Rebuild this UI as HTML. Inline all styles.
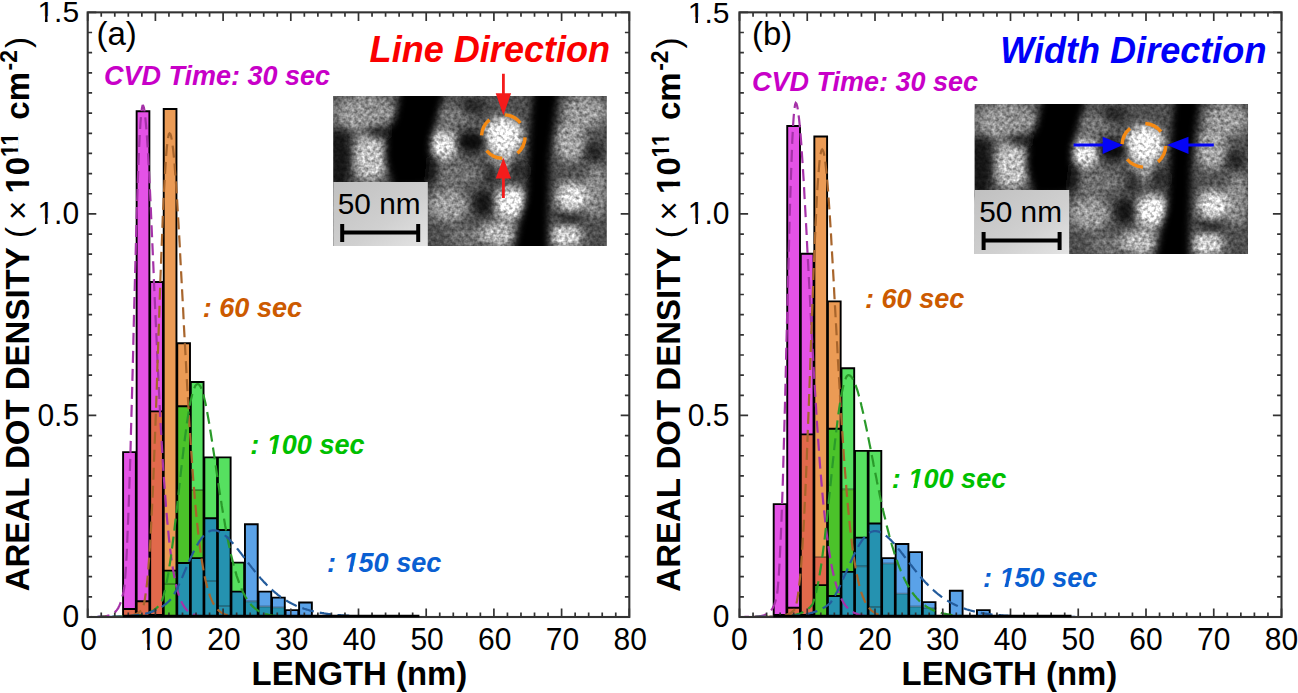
<!DOCTYPE html>
<html><head><meta charset="utf-8"><style>
html,body{margin:0;padding:0;background:#fff;width:1298px;height:693px;overflow:hidden}
svg{display:block}
text{font-family:"Liberation Sans",sans-serif}
</style></head><body>
<svg width="1298" height="693" viewBox="0 0 1298 693" font-family="Liberation Sans, sans-serif">
<defs><clipPath id="semclip"><rect x="0" y="0" width="273.5" height="150"/></clipPath>
<filter id="blur4" x="-30%" y="-30%" width="160%" height="160%"><feGaussianBlur stdDeviation="3.5"/></filter>
<filter id="blur6" x="-50%" y="-50%" width="200%" height="200%"><feGaussianBlur stdDeviation="5"/></filter>
<filter id="semnoise" x="0" y="0" width="100%" height="100%" color-interpolation-filters="sRGB"><feTurbulence type="fractalNoise" baseFrequency="0.28" numOctaves="2" seed="7" result="t"/><feColorMatrix in="t" type="matrix" values="1 0 0 0 0  1 0 0 0 0  1 0 0 0 0  0 0 0 0 1" result="g"/><feComposite in="SourceGraphic" in2="g" operator="arithmetic" k1="1.2" k2="0.4" k3="0" k4="0"/><feGaussianBlur stdDeviation="0.75"/></filter>
<g id="sem">
<g clip-path="url(#semclip)">
<g filter="url(#semnoise)">
<rect x="0" y="0" width="273.5" height="150" fill="#4e4e4e"/>
<g filter="url(#blur6)">
<ellipse cx="32" cy="16" rx="32" ry="18" fill="#8e8e8e"/>
<ellipse cx="20" cy="24" rx="12" ry="10" fill="#9c9c9c"/>
<ellipse cx="37" cy="61" rx="18" ry="24" fill="#c0c0c0"/>
<ellipse cx="109.7" cy="48.4" rx="15" ry="14" fill="#e2e2e2"/>
<ellipse cx="118" cy="20" rx="22" ry="10" fill="#747474"/>
<ellipse cx="122" cy="78" rx="26" ry="14" fill="#6e6e6e"/>
<ellipse cx="115" cy="110" rx="20" ry="16" fill="#9c9c9c"/>
<ellipse cx="133" cy="141" rx="18" ry="10" fill="#727272"/>
<ellipse cx="170.3" cy="40.3" rx="19" ry="19" fill="#f2f2f2"/>
<ellipse cx="168" cy="66" rx="12" ry="10" fill="#a0a0a0"/>
<ellipse cx="178" cy="107" rx="17" ry="16" fill="#f0f0f0"/>
<ellipse cx="165" cy="138" rx="18" ry="12" fill="#bcbcbc"/>
<ellipse cx="238.5" cy="101" rx="15" ry="15" fill="#e0e0e0"/>
<ellipse cx="233" cy="140" rx="16" ry="12" fill="#d2d2d2"/>
<ellipse cx="237" cy="46" rx="15" ry="20" fill="#a4a4a4"/>
<ellipse cx="252" cy="16" rx="22" ry="16" fill="#9a9a9a"/>
<ellipse cx="262" cy="96" rx="11" ry="26" fill="#8c8c8c"/>
<ellipse cx="264" cy="78" rx="9" ry="9" fill="#8a8a8a"/>
</g><g filter="url(#blur4)">
<ellipse cx="138" cy="46" rx="14" ry="10" fill="#101010"/>
<ellipse cx="140" cy="10" rx="12" ry="8" fill="#262626"/>
<ellipse cx="261" cy="56" rx="9" ry="9" fill="#222"/>
<ellipse cx="150" cy="107" rx="10" ry="13" fill="#141414"/>
<ellipse cx="236" cy="122" rx="14" ry="4" fill="#1c1c1c"/>
<ellipse cx="98" cy="74" rx="7" ry="14" fill="#1a1a1a"/>
<ellipse cx="158" cy="78" rx="6" ry="12" fill="#2c2c2c"/>
<ellipse cx="48" cy="36" rx="16" ry="6" fill="#2c2c2c"/>
<ellipse cx="185" cy="75" rx="8" ry="10" fill="#2a2a2a"/>
<path d="M68,-8 L112,-8 L104,22 L98,40 L96,70 L93,90 L60,92 L52,62 L54,36 L62,22 Z" fill="#000"/>
<path d="M-5,36 L15,34 L18,60 L15,90 L-5,92 Z" fill="#141414"/>
<path d="M200,-8 L226,-8 L221,30 L217,60 L216,95 L215,120 L215,158 L180,158 L186,128 L193,100 L195,60 L197,25 Z" fill="#000"/>
</g></g>
<linearGradient id="sbg" x1="0" y1="0" x2="1" y2="1"><stop offset="0" stop-color="#c0c0c0"/><stop offset="0.6" stop-color="#d0d0d0"/><stop offset="1" stop-color="#e4e4e4"/></linearGradient>
<rect x="0" y="86" width="94.6" height="64" fill="url(#sbg)"/>
<text x="4.6" y="118.2" font-size="29.8" fill="#000">50 nm</text>
<path d="M9,136.5 H85 M9,128 V146 M85,128 V146" stroke="#000" stroke-width="4" fill="none"/>
</g></g></defs>
<rect width="100%" height="100%" fill="#fff"/>
<rect x="122.70" y="608.94" width="13.54" height="8.06" fill="#e1694b"/>
<rect x="122.70" y="452.13" width="13.54" height="156.81" fill="#e452e6"/>
<rect x="136.24" y="601.28" width="13.54" height="15.72" fill="#e1694b"/>
<rect x="136.24" y="111.23" width="13.54" height="490.05" fill="#e452e6"/>
<rect x="149.78" y="614.98" width="13.54" height="2.02" fill="#4bc32a"/>
<rect x="149.78" y="411.42" width="13.54" height="203.57" fill="#e1694b"/>
<rect x="149.78" y="282.02" width="13.54" height="129.40" fill="#e452e6"/>
<rect x="163.32" y="583.95" width="13.54" height="33.05" fill="#4bc32a"/>
<rect x="163.32" y="570.64" width="13.54" height="13.30" fill="#4bc32a"/>
<rect x="163.32" y="108.93" width="13.54" height="461.71" fill="#eb9b55"/>
<rect x="176.86" y="562.98" width="13.54" height="54.02" fill="#2592b0"/>
<rect x="176.86" y="406.18" width="13.54" height="156.81" fill="#4bc32a"/>
<rect x="176.86" y="343.30" width="13.54" height="62.88" fill="#eb9b55"/>
<rect x="190.40" y="558.15" width="13.54" height="58.85" fill="#2592b0"/>
<rect x="190.40" y="490.02" width="13.54" height="68.12" fill="#4bc32a"/>
<rect x="190.40" y="381.99" width="13.54" height="108.03" fill="#56e060"/>
<rect x="203.94" y="581.12" width="13.54" height="35.88" fill="#2592b0"/>
<rect x="203.94" y="518.24" width="13.54" height="62.88" fill="#2592b0"/>
<rect x="203.94" y="457.37" width="13.54" height="60.87" fill="#56e060"/>
<rect x="217.48" y="606.12" width="13.54" height="10.88" fill="#2592b0"/>
<rect x="217.48" y="529.93" width="13.54" height="76.19" fill="#2592b0"/>
<rect x="217.48" y="457.37" width="13.54" height="72.56" fill="#56e060"/>
<rect x="231.02" y="591.60" width="13.54" height="25.40" fill="#2592b0"/>
<rect x="231.02" y="562.58" width="13.54" height="29.02" fill="#56e060"/>
<rect x="244.56" y="601.28" width="13.54" height="15.72" fill="#2592b0"/>
<rect x="244.56" y="524.29" width="13.54" height="76.99" fill="#5aa2e8"/>
<rect x="258.10" y="606.52" width="13.54" height="10.48" fill="#2592b0"/>
<rect x="258.10" y="591.60" width="13.54" height="14.91" fill="#5aa2e8"/>
<rect x="271.64" y="607.33" width="13.54" height="9.67" fill="#2592b0"/>
<rect x="271.64" y="597.65" width="13.54" height="9.67" fill="#5aa2e8"/>
<rect x="285.18" y="610.15" width="13.54" height="6.85" fill="#5aa2e8"/>
<rect x="298.72" y="602.49" width="13.54" height="14.51" fill="#5aa2e8"/>
<path d="M162.77,583.95H177.41M189.85,490.02H204.49M203.39,581.12H218.03M216.93,606.12H231.57M244.01,601.28H258.65M257.55,606.52H272.19M271.09,607.33H285.73" stroke="#000" stroke-opacity="0.3" stroke-width="1.9" fill="none"/>
<path d="M123.10,617.0V452.13M135.84,617.0V452.13M122.15,452.13H136.79M136.64,617.0V111.23M149.38,617.0V111.23M135.69,111.23H150.33M150.18,617.0V282.02M162.92,617.0V282.02M149.23,282.02H163.87M163.72,617.0V583.95M176.46,617.0V583.95M123.10,617.0V608.94M135.84,617.0V608.94M122.15,608.94H136.79M136.64,617.0V601.28M149.38,617.0V601.28M135.69,601.28H150.33M150.18,617.0V411.42M162.92,617.0V411.42M149.23,411.42H163.87M163.72,617.0V108.93M176.46,617.0V108.93M162.77,108.93H177.41M177.26,617.0V343.30M190.00,617.0V343.30M176.31,343.30H190.95M190.80,617.0V490.02M203.54,617.0V490.02M204.34,617.0V581.12M217.08,617.0V581.12M217.88,617.0V606.12M230.62,617.0V606.12M150.18,617.0V614.98M162.92,617.0V614.98M149.23,614.98H163.87M163.72,617.0V570.64M176.46,617.0V570.64M162.77,570.64H177.41M177.26,617.0V406.18M190.00,617.0V406.18M176.31,406.18H190.95M190.80,617.0V381.99M203.54,617.0V381.99M189.85,381.99H204.49M204.34,617.0V457.37M217.08,617.0V457.37M203.39,457.37H218.03M217.88,617.0V457.37M230.62,617.0V457.37M216.93,457.37H231.57M231.42,617.0V562.58M244.16,617.0V562.58M230.47,562.58H245.11M244.96,617.0V601.28M257.70,617.0V601.28M258.50,617.0V606.52M271.24,617.0V606.52M272.04,617.0V607.33M284.78,617.0V607.33M177.26,617.0V562.98M190.00,617.0V562.98M176.31,562.98H190.95M190.80,617.0V558.15M203.54,617.0V558.15M189.85,558.15H204.49M204.34,617.0V518.24M217.08,617.0V518.24M203.39,518.24H218.03M217.88,617.0V529.93M230.62,617.0V529.93M216.93,529.93H231.57M231.42,617.0V591.60M244.16,617.0V591.60M230.47,591.60H245.11M244.96,617.0V524.29M257.70,617.0V524.29M244.01,524.29H258.65M258.50,617.0V591.60M271.24,617.0V591.60M257.55,591.60H272.19M272.04,617.0V597.65M284.78,617.0V597.65M271.09,597.65H285.73M285.58,617.0V610.15M298.32,617.0V610.15M284.63,610.15H299.27M299.12,617.0V602.49M311.86,617.0V602.49M298.17,602.49H312.81" stroke="#000" stroke-width="1.9" fill="none"/>
<polyline points="91.1,617.0 91.8,616.9 92.4,616.9 93.1,616.9 93.8,616.9 94.5,616.9 95.1,616.9 95.8,616.9 96.5,616.8 97.2,616.8 97.9,616.8 98.5,616.8 99.2,616.7 99.9,616.7 100.6,616.7 101.2,616.6 101.9,616.6 102.6,616.5 103.3,616.4 103.9,616.4 104.6,616.3 105.3,616.2 106.0,616.1 106.7,616.0 107.3,615.8 108.0,615.7 108.7,615.5 109.4,615.3 110.0,615.1 110.7,614.8 111.4,614.5 112.1,614.2 112.7,613.8 113.4,613.4 114.1,612.9 114.8,612.3 115.5,611.7 116.1,610.9 116.8,610.1 117.5,609.1 118.2,608.1 118.8,606.8 119.5,605.4 120.2,603.7 120.9,601.9 121.5,599.7 122.2,597.2 122.9,594.4 123.6,591.2 124.3,587.5 124.9,581.8 125.6,572.2 126.3,561.0 127.0,547.9 127.6,532.9 128.3,516.0 129.0,497.3 129.7,476.7 130.4,454.5 131.0,430.9 131.7,406.0 132.4,380.1 133.1,353.7 133.7,327.0 134.4,300.3 135.1,274.2 135.8,248.9 136.4,224.8 137.1,202.3 137.8,181.6 138.5,163.1 139.2,146.9 139.8,133.2 140.5,122.2 141.2,114.0 141.9,108.5 142.5,105.8 143.2,105.7 143.9,107.6 144.6,111.3 145.2,116.6 145.9,123.6 146.6,132.0 147.3,141.8 148.0,152.7 148.6,164.7 149.3,177.6 150.0,191.3 150.7,205.6 151.3,220.4 152.0,235.6 152.7,251.1 153.4,266.8 154.0,282.5 154.7,298.2 155.4,313.8 156.1,329.2 156.8,344.4 157.4,359.2 158.1,373.6 158.8,387.7 159.5,401.3 160.1,414.4 160.8,427.1 161.5,439.2 162.2,450.8 162.8,461.8 163.5,472.4 164.2,482.4 164.9,491.8 165.6,500.8 166.2,509.2 166.9,517.2 167.6,524.7 168.3,531.7 168.9,538.2 169.6,544.4 170.3,550.1 171.0,555.4 171.6,560.4 172.3,565.0 173.0,569.3 173.7,573.3 174.4,577.0 175.0,580.3 175.7,583.5 176.4,586.4 177.1,589.0 177.7,591.5 178.4,593.7 179.1,595.8 179.8,597.7 180.4,599.4 181.1,601.0 181.8,602.5 182.5,603.8 183.2,605.0 183.8,606.2 184.5,607.2 185.2,608.1 185.9,608.9 186.5,609.7 187.2,610.4 187.9,611.0 188.6,611.6 189.2,612.1 189.9,612.6 190.6,613.0 191.3,613.4 192.0,613.8 192.6,614.1 193.3,614.4 194.0,614.6 194.7,614.9 195.3,615.1 196.0,615.3 196.7,615.4 197.4,615.6 198.1,615.7 198.7,615.9 199.4,616.0 200.1,616.1 200.8,616.2 201.4,616.3 202.1,616.3 202.8,616.4 203.5,616.5 204.1,616.5 204.8,616.6 205.5,616.6 206.2,616.7 206.9,616.7 207.5,616.7 208.2,616.8 208.9,616.8 209.6,616.8 210.2,616.8 210.9,616.8 211.6,616.9 212.3,616.9 212.9,616.9 213.6,616.9 214.3,616.9 215.0,616.9 215.7,616.9 216.3,616.9 217.0,616.9 217.7,616.9 218.4,617.0 219.0,617.0 219.7,617.0 220.4,617.0 221.1,617.0 221.7,617.0 222.4,617.0 223.1,617.0 223.8,617.0 224.5,617.0 225.1,617.0 225.8,617.0 226.5,617.0 227.2,617.0 227.8,617.0 228.5,617.0 229.2,617.0 229.9,617.0 230.5,617.0 231.2,617.0 231.9,617.0 232.6,617.0 233.3,617.0 233.9,617.0 234.6,617.0 235.3,617.0 236.0,617.0 236.6,617.0 237.3,617.0 238.0,617.0 238.7,617.0 239.3,617.0 240.0,617.0 240.7,617.0 241.4,617.0 242.1,617.0 242.7,617.0 243.4,617.0 244.1,617.0 244.8,617.0 245.4,617.0 246.1,617.0 246.8,617.0 247.5,617.0 248.1,617.0 248.8,617.0 249.5,617.0 250.2,617.0 250.9,617.0 251.5,617.0 252.2,617.0 252.9,617.0 253.6,617.0 254.2,617.0 254.9,617.0 255.6,617.0 256.3,617.0 257.0,617.0 257.6,617.0 258.3,617.0 259.0,617.0 259.7,617.0 260.3,617.0 261.0,617.0 261.7,617.0 262.4,617.0 263.0,617.0 263.7,617.0 264.4,617.0 265.1,617.0 265.8,617.0 266.4,617.0 267.1,617.0 267.8,617.0 268.5,617.0 269.1,617.0 269.8,617.0 270.5,617.0 271.2,617.0 271.8,617.0 272.5,617.0 273.2,617.0 273.9,617.0 274.6,617.0 275.2,617.0 275.9,617.0 276.6,617.0 277.3,617.0 277.9,617.0 278.6,617.0 279.3,617.0 280.0,617.0 280.6,617.0 281.3,617.0 282.0,617.0 282.7,617.0 283.4,617.0 284.0,617.0 284.7,617.0 285.4,617.0 286.1,617.0 286.7,617.0 287.4,617.0 288.1,617.0 288.8,617.0 289.4,617.0 290.1,617.0 290.8,617.0 291.5,617.0 292.2,617.0 292.8,617.0 293.5,617.0 294.2,617.0 294.9,617.0 295.5,617.0 296.2,617.0 296.9,617.0 297.6,617.0 298.2,617.0 298.9,617.0 299.6,617.0 300.3,617.0 301.0,617.0 301.6,617.0 302.3,617.0 303.0,617.0 303.7,617.0 304.3,617.0 305.0,617.0 305.7,617.0 306.4,617.0 307.0,617.0 307.7,617.0 308.4,617.0 309.1,617.0 309.8,617.0 310.4,617.0 311.1,617.0 311.8,617.0 312.5,617.0 313.1,617.0 313.8,617.0 314.5,617.0 315.2,617.0 315.8,617.0 316.5,617.0 317.2,617.0 317.9,617.0 318.6,617.0 319.2,617.0 319.9,617.0 320.6,617.0 321.3,617.0 321.9,617.0 322.6,617.0 323.3,617.0 324.0,617.0 324.7,617.0 325.3,617.0 326.0,617.0 326.7,617.0 327.4,617.0 328.0,617.0 328.7,617.0 329.4,617.0 330.1,617.0 330.7,617.0 331.4,617.0 332.1,617.0 332.8,617.0 333.5,617.0 334.1,617.0 334.8,617.0 335.5,617.0 336.2,617.0 336.8,617.0 337.5,617.0 338.2,617.0 338.9,617.0 339.5,617.0 340.2,617.0 340.9,617.0 341.6,617.0 342.3,617.0 342.9,617.0 343.6,617.0 344.3,617.0 345.0,617.0 345.6,617.0 346.3,617.0 347.0,617.0 347.7,617.0 348.3,617.0 349.0,617.0 349.7,617.0 350.4,617.0 351.1,617.0 351.7,617.0 352.4,617.0 353.1,617.0 353.8,617.0 354.4,617.0 355.1,617.0 355.8,617.0 356.5,617.0 357.1,617.0 357.8,617.0 358.5,617.0 359.2,617.0 359.9,617.0 360.5,617.0 361.2,617.0 361.9,617.0 362.6,617.0 363.2,617.0 363.9,617.0 364.6,617.0 365.3,617.0 365.9,617.0 366.6,617.0 367.3,617.0 368.0,617.0 368.7,617.0 369.3,617.0 370.0,617.0 370.7,617.0 371.4,617.0 372.0,617.0 372.7,617.0 373.4,617.0 374.1,617.0 374.7,617.0 375.4,617.0 376.1,617.0 376.8,617.0 377.5,617.0 378.1,617.0 378.8,617.0 379.5,617.0 380.2,617.0 380.8,617.0 381.5,617.0 382.2,617.0 382.9,617.0 383.5,617.0 384.2,617.0 384.9,617.0 385.6,617.0 386.3,617.0 386.9,617.0 387.6,617.0 388.3,617.0 389.0,617.0 389.6,617.0 390.3,617.0 391.0,617.0 391.7,617.0 392.4,617.0 393.0,617.0 393.7,617.0 394.4,617.0 395.1,617.0 395.7,617.0 396.4,617.0 397.1,617.0 397.8,617.0 398.4,617.0 399.1,617.0 399.8,617.0 400.5,617.0 401.2,617.0 401.8,617.0 402.5,617.0 403.2,617.0 403.9,617.0 404.5,617.0 405.2,617.0 405.9,617.0 406.6,617.0 407.2,617.0 407.9,617.0 408.6,617.0 409.3,617.0 410.0,617.0 410.6,617.0 411.3,617.0 412.0,617.0 412.7,617.0 413.3,617.0 414.0,617.0 414.7,617.0 415.4,617.0 416.0,617.0 416.7,617.0 417.4,617.0 418.1,617.0 418.8,617.0 419.4,617.0 420.1,617.0 420.8,617.0 421.5,617.0 422.1,617.0 422.8,617.0 423.5,617.0 424.2,617.0 424.8,617.0 425.5,617.0 426.2,617.0 426.9,617.0 427.6,617.0 428.2,617.0 428.9,617.0 429.6,617.0 430.3,617.0 430.9,617.0 431.6,617.0 432.3,617.0 433.0,617.0 433.6,617.0 434.3,617.0 435.0,617.0 435.7,617.0 436.4,617.0 437.0,617.0 437.7,617.0 438.4,617.0 439.1,617.0 439.7,617.0 440.4,617.0 441.1,617.0 441.8,617.0 442.4,617.0 443.1,617.0 443.8,617.0 444.5,617.0 445.2,617.0 445.8,617.0 446.5,617.0 447.2,617.0 447.9,617.0 448.5,617.0 449.2,617.0 449.9,617.0 450.6,617.0 451.2,617.0 451.9,617.0 452.6,617.0 453.3,617.0 454.0,617.0 454.6,617.0 455.3,617.0 456.0,617.0 456.7,617.0 457.3,617.0 458.0,617.0 458.7,617.0 459.4,617.0 460.1,617.0 460.7,617.0 461.4,617.0 462.1,617.0 462.8,617.0 463.4,617.0 464.1,617.0 464.8,617.0 465.5,617.0 466.1,617.0 466.8,617.0 467.5,617.0 468.2,617.0 468.9,617.0 469.5,617.0 470.2,617.0 470.9,617.0 471.6,617.0 472.2,617.0 472.9,617.0 473.6,617.0 474.3,617.0 474.9,617.0 475.6,617.0 476.3,617.0 477.0,617.0 477.7,617.0 478.3,617.0 479.0,617.0 479.7,617.0 480.4,617.0 481.0,617.0 481.7,617.0 482.4,617.0 483.1,617.0 483.7,617.0 484.4,617.0 485.1,617.0 485.8,617.0 486.5,617.0 487.1,617.0 487.8,617.0 488.5,617.0 489.2,617.0 489.8,617.0 490.5,617.0 491.2,617.0 491.9,617.0 492.5,617.0 493.2,617.0" fill="none" stroke="#a532a8" stroke-width="2.2" stroke-dasharray="12,6" stroke-dashoffset="11.5"/>
<polyline points="91.1,617.0 91.8,617.0 92.4,617.0 93.1,617.0 93.8,617.0 94.5,617.0 95.1,617.0 95.8,617.0 96.5,617.0 97.2,617.0 97.9,617.0 98.5,617.0 99.2,617.0 99.9,617.0 100.6,617.0 101.2,617.0 101.9,616.9 102.6,616.9 103.3,616.9 103.9,616.9 104.6,616.9 105.3,616.9 106.0,616.9 106.7,616.9 107.3,616.9 108.0,616.9 108.7,616.9 109.4,616.9 110.0,616.9 110.7,616.9 111.4,616.9 112.1,616.8 112.7,616.8 113.4,616.8 114.1,616.8 114.8,616.8 115.5,616.8 116.1,616.8 116.8,616.7 117.5,616.7 118.2,616.7 118.8,616.7 119.5,616.6 120.2,616.6 120.9,616.6 121.5,616.5 122.2,616.5 122.9,616.5 123.6,616.4 124.3,616.4 124.9,616.3 125.6,616.3 126.3,616.2 127.0,616.1 127.6,616.0 128.3,615.9 129.0,615.9 129.7,615.7 130.4,615.6 131.0,615.5 131.7,615.4 132.4,615.2 133.1,615.0 133.7,614.8 134.4,614.6 135.1,614.4 135.8,614.1 136.4,613.8 137.1,613.5 137.8,613.1 138.5,612.7 139.2,612.2 139.8,611.7 140.5,611.1 141.2,610.5 141.9,609.8 142.5,608.9 143.2,606.8 143.9,604.1 144.6,600.8 145.2,596.9 145.9,592.3 146.6,586.9 147.3,580.6 148.0,573.4 148.6,565.2 149.3,556.0 150.0,545.7 150.7,534.4 151.3,521.9 152.0,508.3 152.7,493.6 153.4,478.0 154.0,461.3 154.7,443.8 155.4,425.6 156.1,406.6 156.8,387.2 157.4,367.4 158.1,347.4 158.8,327.4 159.5,307.6 160.1,288.1 160.8,269.1 161.5,250.8 162.2,233.3 162.8,216.9 163.5,201.7 164.2,187.7 164.9,175.2 165.6,164.2 166.2,154.8 166.9,147.0 167.6,141.0 168.3,136.7 168.9,134.1 169.6,133.3 170.3,133.9 171.0,135.8 171.6,138.9 172.3,143.2 173.0,148.5 173.7,154.9 174.4,162.3 175.0,170.5 175.7,179.5 176.4,189.3 177.1,199.8 177.7,210.8 178.4,222.3 179.1,234.2 179.8,246.5 180.4,259.1 181.1,271.9 181.8,284.8 182.5,297.7 183.2,310.7 183.8,323.7 184.5,336.5 185.2,349.3 185.9,361.8 186.5,374.1 187.2,386.2 187.9,398.0 188.6,409.5 189.2,420.6 189.9,431.4 190.6,441.9 191.3,452.0 192.0,461.7 192.6,471.0 193.3,479.9 194.0,488.4 194.7,496.6 195.3,504.3 196.0,511.7 196.7,518.7 197.4,525.3 198.1,531.6 198.7,537.5 199.4,543.1 200.1,548.4 200.8,553.3 201.4,558.0 202.1,562.3 202.8,566.4 203.5,570.2 204.1,573.8 204.8,577.1 205.5,580.3 206.2,583.1 206.9,585.8 207.5,588.3 208.2,590.6 208.9,592.8 209.6,594.8 210.2,596.6 210.9,598.3 211.6,599.9 212.3,601.4 212.9,602.7 213.6,603.9 214.3,605.1 215.0,606.1 215.7,607.1 216.3,607.9 217.0,608.7 217.7,609.5 218.4,610.2 219.0,610.8 219.7,611.3 220.4,611.9 221.1,612.3 221.7,612.8 222.4,613.2 223.1,613.5 223.8,613.8 224.5,614.1 225.1,614.4 225.8,614.7 226.5,614.9 227.2,615.1 227.8,615.3 228.5,615.4 229.2,615.6 229.9,615.7 230.5,615.8 231.2,616.0 231.9,616.1 232.6,616.2 233.3,616.2 233.9,616.3 234.6,616.4 235.3,616.4 236.0,616.5 236.6,616.6 237.3,616.6 238.0,616.6 238.7,616.7 239.3,616.7 240.0,616.7 240.7,616.8 241.4,616.8 242.1,616.8 242.7,616.8 243.4,616.8 244.1,616.9 244.8,616.9 245.4,616.9 246.1,616.9 246.8,616.9 247.5,616.9 248.1,616.9 248.8,616.9 249.5,616.9 250.2,616.9 250.9,617.0 251.5,617.0 252.2,617.0 252.9,617.0 253.6,617.0 254.2,617.0 254.9,617.0 255.6,617.0 256.3,617.0 257.0,617.0 257.6,617.0 258.3,617.0 259.0,617.0 259.7,617.0 260.3,617.0 261.0,617.0 261.7,617.0 262.4,617.0 263.0,617.0 263.7,617.0 264.4,617.0 265.1,617.0 265.8,617.0 266.4,617.0 267.1,617.0 267.8,617.0 268.5,617.0 269.1,617.0 269.8,617.0 270.5,617.0 271.2,617.0 271.8,617.0 272.5,617.0 273.2,617.0 273.9,617.0 274.6,617.0 275.2,617.0 275.9,617.0 276.6,617.0 277.3,617.0 277.9,617.0 278.6,617.0 279.3,617.0 280.0,617.0 280.6,617.0 281.3,617.0 282.0,617.0 282.7,617.0 283.4,617.0 284.0,617.0 284.7,617.0 285.4,617.0 286.1,617.0 286.7,617.0 287.4,617.0 288.1,617.0 288.8,617.0 289.4,617.0 290.1,617.0 290.8,617.0 291.5,617.0 292.2,617.0 292.8,617.0 293.5,617.0 294.2,617.0 294.9,617.0 295.5,617.0 296.2,617.0 296.9,617.0 297.6,617.0 298.2,617.0 298.9,617.0 299.6,617.0 300.3,617.0 301.0,617.0 301.6,617.0 302.3,617.0 303.0,617.0 303.7,617.0 304.3,617.0 305.0,617.0 305.7,617.0 306.4,617.0 307.0,617.0 307.7,617.0 308.4,617.0 309.1,617.0 309.8,617.0 310.4,617.0 311.1,617.0 311.8,617.0 312.5,617.0 313.1,617.0 313.8,617.0 314.5,617.0 315.2,617.0 315.8,617.0 316.5,617.0 317.2,617.0 317.9,617.0 318.6,617.0 319.2,617.0 319.9,617.0 320.6,617.0 321.3,617.0 321.9,617.0 322.6,617.0 323.3,617.0 324.0,617.0 324.7,617.0 325.3,617.0 326.0,617.0 326.7,617.0 327.4,617.0 328.0,617.0 328.7,617.0 329.4,617.0 330.1,617.0 330.7,617.0 331.4,617.0 332.1,617.0 332.8,617.0 333.5,617.0 334.1,617.0 334.8,617.0 335.5,617.0 336.2,617.0 336.8,617.0 337.5,617.0 338.2,617.0 338.9,617.0 339.5,617.0 340.2,617.0 340.9,617.0 341.6,617.0 342.3,617.0 342.9,617.0 343.6,617.0 344.3,617.0 345.0,617.0 345.6,617.0 346.3,617.0 347.0,617.0 347.7,617.0 348.3,617.0 349.0,617.0 349.7,617.0 350.4,617.0 351.1,617.0 351.7,617.0 352.4,617.0 353.1,617.0 353.8,617.0 354.4,617.0 355.1,617.0 355.8,617.0 356.5,617.0 357.1,617.0 357.8,617.0 358.5,617.0 359.2,617.0 359.9,617.0 360.5,617.0 361.2,617.0 361.9,617.0 362.6,617.0 363.2,617.0 363.9,617.0 364.6,617.0 365.3,617.0 365.9,617.0 366.6,617.0 367.3,617.0 368.0,617.0 368.7,617.0 369.3,617.0 370.0,617.0 370.7,617.0 371.4,617.0 372.0,617.0 372.7,617.0 373.4,617.0 374.1,617.0 374.7,617.0 375.4,617.0 376.1,617.0 376.8,617.0 377.5,617.0 378.1,617.0 378.8,617.0 379.5,617.0 380.2,617.0 380.8,617.0 381.5,617.0 382.2,617.0 382.9,617.0 383.5,617.0 384.2,617.0 384.9,617.0 385.6,617.0 386.3,617.0 386.9,617.0 387.6,617.0 388.3,617.0 389.0,617.0 389.6,617.0 390.3,617.0 391.0,617.0 391.7,617.0 392.4,617.0 393.0,617.0 393.7,617.0 394.4,617.0 395.1,617.0 395.7,617.0 396.4,617.0 397.1,617.0 397.8,617.0 398.4,617.0 399.1,617.0 399.8,617.0 400.5,617.0 401.2,617.0 401.8,617.0 402.5,617.0 403.2,617.0 403.9,617.0 404.5,617.0 405.2,617.0 405.9,617.0 406.6,617.0 407.2,617.0 407.9,617.0 408.6,617.0 409.3,617.0 410.0,617.0 410.6,617.0 411.3,617.0 412.0,617.0 412.7,617.0 413.3,617.0 414.0,617.0 414.7,617.0 415.4,617.0 416.0,617.0 416.7,617.0 417.4,617.0 418.1,617.0 418.8,617.0 419.4,617.0 420.1,617.0 420.8,617.0 421.5,617.0 422.1,617.0 422.8,617.0 423.5,617.0 424.2,617.0 424.8,617.0 425.5,617.0 426.2,617.0 426.9,617.0 427.6,617.0 428.2,617.0 428.9,617.0 429.6,617.0 430.3,617.0 430.9,617.0 431.6,617.0 432.3,617.0 433.0,617.0 433.6,617.0 434.3,617.0 435.0,617.0 435.7,617.0 436.4,617.0 437.0,617.0 437.7,617.0 438.4,617.0 439.1,617.0 439.7,617.0 440.4,617.0 441.1,617.0 441.8,617.0 442.4,617.0 443.1,617.0 443.8,617.0 444.5,617.0 445.2,617.0 445.8,617.0 446.5,617.0 447.2,617.0 447.9,617.0 448.5,617.0 449.2,617.0 449.9,617.0 450.6,617.0 451.2,617.0 451.9,617.0 452.6,617.0 453.3,617.0 454.0,617.0 454.6,617.0 455.3,617.0 456.0,617.0 456.7,617.0 457.3,617.0 458.0,617.0 458.7,617.0 459.4,617.0 460.1,617.0 460.7,617.0 461.4,617.0 462.1,617.0 462.8,617.0 463.4,617.0 464.1,617.0 464.8,617.0 465.5,617.0 466.1,617.0 466.8,617.0 467.5,617.0 468.2,617.0 468.9,617.0 469.5,617.0 470.2,617.0 470.9,617.0 471.6,617.0 472.2,617.0 472.9,617.0 473.6,617.0 474.3,617.0 474.9,617.0 475.6,617.0 476.3,617.0 477.0,617.0 477.7,617.0 478.3,617.0 479.0,617.0 479.7,617.0 480.4,617.0 481.0,617.0 481.7,617.0 482.4,617.0 483.1,617.0 483.7,617.0 484.4,617.0 485.1,617.0 485.8,617.0 486.5,617.0 487.1,617.0 487.8,617.0 488.5,617.0 489.2,617.0 489.8,617.0 490.5,617.0 491.2,617.0 491.9,617.0 492.5,617.0 493.2,617.0" fill="none" stroke="#a8652c" stroke-width="2.2" stroke-dasharray="12,6" stroke-dashoffset="14.5"/>
<polyline points="91.1,617.0 91.8,617.0 92.4,617.0 93.1,617.0 93.8,617.0 94.5,617.0 95.1,617.0 95.8,617.0 96.5,617.0 97.2,617.0 97.9,617.0 98.5,617.0 99.2,617.0 99.9,617.0 100.6,617.0 101.2,617.0 101.9,616.9 102.6,616.9 103.3,616.9 103.9,616.9 104.6,616.9 105.3,616.9 106.0,616.9 106.7,616.9 107.3,616.9 108.0,616.9 108.7,616.9 109.4,616.9 110.0,616.9 110.7,616.9 111.4,616.9 112.1,616.9 112.7,616.9 113.4,616.8 114.1,616.8 114.8,616.8 115.5,616.8 116.1,616.8 116.8,616.8 117.5,616.8 118.2,616.8 118.8,616.7 119.5,616.7 120.2,616.7 120.9,616.7 121.5,616.7 122.2,616.6 122.9,616.6 123.6,616.6 124.3,616.6 124.9,616.5 125.6,616.5 126.3,616.5 127.0,616.5 127.6,616.4 128.3,616.4 129.0,616.3 129.7,616.3 130.4,616.3 131.0,616.2 131.7,616.2 132.4,616.1 133.1,616.0 133.7,616.0 134.4,615.9 135.1,615.8 135.8,615.8 136.4,615.7 137.1,615.6 137.8,615.5 138.5,615.4 139.2,615.3 139.8,615.2 140.5,615.1 141.2,615.0 141.9,614.8 142.5,614.7 143.2,614.5 143.9,614.4 144.6,614.2 145.2,614.0 145.9,613.8 146.6,613.6 147.3,613.4 148.0,613.1 148.6,612.9 149.3,612.6 150.0,612.3 150.7,611.9 151.3,611.6 152.0,611.2 152.7,610.8 153.4,610.4 154.0,610.0 154.7,609.5 155.4,609.0 156.1,608.4 156.8,607.8 157.4,607.2 158.1,606.5 158.8,605.8 159.5,605.0 160.1,604.2 160.8,603.3 161.5,602.2 162.2,600.3 162.8,598.1 163.5,595.8 164.2,593.2 164.9,590.5 165.6,587.5 166.2,584.4 166.9,581.0 167.6,577.4 168.3,573.5 168.9,569.5 169.6,565.2 170.3,560.8 171.0,556.1 171.6,551.2 172.3,546.2 173.0,541.0 173.7,535.6 174.4,530.0 175.0,524.3 175.7,518.6 176.4,512.7 177.1,506.7 177.7,500.6 178.4,494.6 179.1,488.5 179.8,482.3 180.4,476.3 181.1,470.2 181.8,464.2 182.5,458.3 183.2,452.6 183.8,446.9 184.5,441.4 185.2,436.0 185.9,430.9 186.5,425.9 187.2,421.2 187.9,416.7 188.6,412.4 189.2,408.5 189.9,404.7 190.6,401.3 191.3,398.2 192.0,395.4 192.6,392.8 193.3,390.6 194.0,388.7 194.7,387.2 195.3,385.9 196.0,385.0 196.7,384.4 197.4,384.0 198.1,384.0 198.7,384.4 199.4,385.0 200.1,386.0 200.8,387.3 201.4,388.8 202.1,390.7 202.8,392.8 203.5,395.1 204.1,397.7 204.8,400.6 205.5,403.6 206.2,406.9 206.9,410.3 207.5,413.9 208.2,417.7 208.9,421.6 209.6,425.6 210.2,429.8 210.9,434.0 211.6,438.4 212.3,442.8 212.9,447.2 213.6,451.7 214.3,456.2 215.0,460.8 215.7,465.4 216.3,469.9 217.0,474.5 217.7,479.0 218.4,483.5 219.0,487.9 219.7,492.4 220.4,496.7 221.1,501.0 221.7,505.2 222.4,509.4 223.1,513.5 223.8,517.5 224.5,521.4 225.1,525.2 225.8,529.0 226.5,532.6 227.2,536.2 227.8,539.6 228.5,543.0 229.2,546.2 229.9,549.4 230.5,552.5 231.2,555.4 231.9,558.3 232.6,561.0 233.3,563.7 233.9,566.3 234.6,568.7 235.3,571.1 236.0,573.4 236.6,575.6 237.3,577.7 238.0,579.7 238.7,581.6 239.3,583.5 240.0,585.2 240.7,586.9 241.4,588.5 242.1,590.1 242.7,591.6 243.4,593.0 244.1,594.3 244.8,595.6 245.4,596.8 246.1,597.9 246.8,599.0 247.5,600.0 248.1,601.0 248.8,602.0 249.5,602.8 250.2,603.7 250.9,604.5 251.5,605.2 252.2,605.9 252.9,606.6 253.6,607.2 254.2,607.8 254.9,608.4 255.6,608.9 256.3,609.4 257.0,609.9 257.6,610.4 258.3,610.8 259.0,611.2 259.7,611.5 260.3,611.9 261.0,612.2 261.7,612.5 262.4,612.8 263.0,613.1 263.7,613.4 264.4,613.6 265.1,613.8 265.8,614.0 266.4,614.2 267.1,614.4 267.8,614.6 268.5,614.8 269.1,614.9 269.8,615.0 270.5,615.2 271.2,615.3 271.8,615.4 272.5,615.5 273.2,615.6 273.9,615.7 274.6,615.8 275.2,615.9 275.9,616.0 276.6,616.0 277.3,616.1 277.9,616.2 278.6,616.2 279.3,616.3 280.0,616.3 280.6,616.4 281.3,616.4 282.0,616.5 282.7,616.5 283.4,616.5 284.0,616.6 284.7,616.6 285.4,616.6 286.1,616.7 286.7,616.7 287.4,616.7 288.1,616.7 288.8,616.8 289.4,616.8 290.1,616.8 290.8,616.8 291.5,616.8 292.2,616.8 292.8,616.8 293.5,616.9 294.2,616.9 294.9,616.9 295.5,616.9 296.2,616.9 296.9,616.9 297.6,616.9 298.2,616.9 298.9,616.9 299.6,616.9 300.3,616.9 301.0,616.9 301.6,616.9 302.3,616.9 303.0,617.0 303.7,617.0 304.3,617.0 305.0,617.0 305.7,617.0 306.4,617.0 307.0,617.0 307.7,617.0 308.4,617.0 309.1,617.0 309.8,617.0 310.4,617.0 311.1,617.0 311.8,617.0 312.5,617.0 313.1,617.0 313.8,617.0 314.5,617.0 315.2,617.0 315.8,617.0 316.5,617.0 317.2,617.0 317.9,617.0 318.6,617.0 319.2,617.0 319.9,617.0 320.6,617.0 321.3,617.0 321.9,617.0 322.6,617.0 323.3,617.0 324.0,617.0 324.7,617.0 325.3,617.0 326.0,617.0 326.7,617.0 327.4,617.0 328.0,617.0 328.7,617.0 329.4,617.0 330.1,617.0 330.7,617.0 331.4,617.0 332.1,617.0 332.8,617.0 333.5,617.0 334.1,617.0 334.8,617.0 335.5,617.0 336.2,617.0 336.8,617.0 337.5,617.0 338.2,617.0 338.9,617.0 339.5,617.0 340.2,617.0 340.9,617.0 341.6,617.0 342.3,617.0 342.9,617.0 343.6,617.0 344.3,617.0 345.0,617.0 345.6,617.0 346.3,617.0 347.0,617.0 347.7,617.0 348.3,617.0 349.0,617.0 349.7,617.0 350.4,617.0 351.1,617.0 351.7,617.0 352.4,617.0 353.1,617.0 353.8,617.0 354.4,617.0 355.1,617.0 355.8,617.0 356.5,617.0 357.1,617.0 357.8,617.0 358.5,617.0 359.2,617.0 359.9,617.0 360.5,617.0 361.2,617.0 361.9,617.0 362.6,617.0 363.2,617.0 363.9,617.0 364.6,617.0 365.3,617.0 365.9,617.0 366.6,617.0 367.3,617.0 368.0,617.0 368.7,617.0 369.3,617.0 370.0,617.0 370.7,617.0 371.4,617.0 372.0,617.0 372.7,617.0 373.4,617.0 374.1,617.0 374.7,617.0 375.4,617.0 376.1,617.0 376.8,617.0 377.5,617.0 378.1,617.0 378.8,617.0 379.5,617.0 380.2,617.0 380.8,617.0 381.5,617.0 382.2,617.0 382.9,617.0 383.5,617.0 384.2,617.0 384.9,617.0 385.6,617.0 386.3,617.0 386.9,617.0 387.6,617.0 388.3,617.0 389.0,617.0 389.6,617.0 390.3,617.0 391.0,617.0 391.7,617.0 392.4,617.0 393.0,617.0 393.7,617.0 394.4,617.0 395.1,617.0 395.7,617.0 396.4,617.0 397.1,617.0 397.8,617.0 398.4,617.0 399.1,617.0 399.8,617.0 400.5,617.0 401.2,617.0 401.8,617.0 402.5,617.0 403.2,617.0 403.9,617.0 404.5,617.0 405.2,617.0 405.9,617.0 406.6,617.0 407.2,617.0 407.9,617.0 408.6,617.0 409.3,617.0 410.0,617.0 410.6,617.0 411.3,617.0 412.0,617.0 412.7,617.0 413.3,617.0 414.0,617.0 414.7,617.0 415.4,617.0 416.0,617.0 416.7,617.0 417.4,617.0 418.1,617.0 418.8,617.0 419.4,617.0 420.1,617.0 420.8,617.0 421.5,617.0 422.1,617.0 422.8,617.0 423.5,617.0 424.2,617.0 424.8,617.0 425.5,617.0 426.2,617.0 426.9,617.0 427.6,617.0 428.2,617.0 428.9,617.0 429.6,617.0 430.3,617.0 430.9,617.0 431.6,617.0 432.3,617.0 433.0,617.0 433.6,617.0 434.3,617.0 435.0,617.0 435.7,617.0 436.4,617.0 437.0,617.0 437.7,617.0 438.4,617.0 439.1,617.0 439.7,617.0 440.4,617.0 441.1,617.0 441.8,617.0 442.4,617.0 443.1,617.0 443.8,617.0 444.5,617.0 445.2,617.0 445.8,617.0 446.5,617.0 447.2,617.0 447.9,617.0 448.5,617.0 449.2,617.0 449.9,617.0 450.6,617.0 451.2,617.0 451.9,617.0 452.6,617.0 453.3,617.0 454.0,617.0 454.6,617.0 455.3,617.0 456.0,617.0 456.7,617.0 457.3,617.0 458.0,617.0 458.7,617.0 459.4,617.0 460.1,617.0 460.7,617.0 461.4,617.0 462.1,617.0 462.8,617.0 463.4,617.0 464.1,617.0 464.8,617.0 465.5,617.0 466.1,617.0 466.8,617.0 467.5,617.0 468.2,617.0 468.9,617.0 469.5,617.0 470.2,617.0 470.9,617.0 471.6,617.0 472.2,617.0 472.9,617.0 473.6,617.0 474.3,617.0 474.9,617.0 475.6,617.0 476.3,617.0 477.0,617.0 477.7,617.0 478.3,617.0 479.0,617.0 479.7,617.0 480.4,617.0 481.0,617.0 481.7,617.0 482.4,617.0 483.1,617.0 483.7,617.0 484.4,617.0 485.1,617.0 485.8,617.0 486.5,617.0 487.1,617.0 487.8,617.0 488.5,617.0 489.2,617.0 489.8,617.0 490.5,617.0 491.2,617.0 491.9,617.0 492.5,617.0 493.2,617.0" fill="none" stroke="#2a9a2a" stroke-width="2.2" stroke-dasharray="12,6" stroke-dashoffset="14.2"/>
<polyline points="91.1,617.0 91.8,617.0 92.4,617.0 93.1,617.0 93.8,617.0 94.5,617.0 95.1,617.0 95.8,617.0 96.5,617.0 97.2,617.0 97.9,616.9 98.5,616.9 99.2,616.9 99.9,616.9 100.6,616.9 101.2,616.9 101.9,616.9 102.6,616.9 103.3,616.9 103.9,616.9 104.6,616.9 105.3,616.9 106.0,616.9 106.7,616.9 107.3,616.8 108.0,616.8 108.7,616.8 109.4,616.8 110.0,616.8 110.7,616.8 111.4,616.8 112.1,616.8 112.7,616.7 113.4,616.7 114.1,616.7 114.8,616.7 115.5,616.7 116.1,616.7 116.8,616.6 117.5,616.6 118.2,616.6 118.8,616.6 119.5,616.5 120.2,616.5 120.9,616.5 121.5,616.5 122.2,616.4 122.9,616.4 123.6,616.4 124.3,616.3 124.9,616.3 125.6,616.2 126.3,616.2 127.0,616.2 127.6,616.1 128.3,616.1 129.0,616.0 129.7,616.0 130.4,615.9 131.0,615.8 131.7,615.8 132.4,615.7 133.1,615.6 133.7,615.6 134.4,615.5 135.1,615.4 135.8,615.3 136.4,615.2 137.1,615.2 137.8,615.1 138.5,615.0 139.2,614.9 139.8,614.7 140.5,614.6 141.2,614.5 141.9,614.4 142.5,614.3 143.2,614.1 143.9,614.0 144.6,613.8 145.2,613.7 145.9,613.5 146.6,613.3 147.3,613.2 148.0,613.0 148.6,612.8 149.3,612.6 150.0,612.4 150.7,612.2 151.3,611.9 152.0,611.7 152.7,611.4 153.4,611.2 154.0,610.9 154.7,610.6 155.4,610.3 156.1,610.0 156.8,609.7 157.4,609.4 158.1,609.0 158.8,608.6 159.5,608.3 160.1,607.9 160.8,607.5 161.5,607.0 162.2,606.6 162.8,606.1 163.5,605.7 164.2,605.2 164.9,604.7 165.6,604.1 166.2,603.6 166.9,603.0 167.6,602.4 168.3,601.8 168.9,601.2 169.6,600.5 170.3,599.8 171.0,599.1 171.6,598.4 172.3,597.5 173.0,596.3 173.7,595.1 174.4,593.9 175.0,592.6 175.7,591.2 176.4,589.9 177.1,588.5 177.7,587.1 178.4,585.6 179.1,584.2 179.8,582.7 180.4,581.2 181.1,579.7 181.8,578.1 182.5,576.6 183.2,575.0 183.8,573.5 184.5,571.9 185.2,570.3 185.9,568.8 186.5,567.2 187.2,565.6 187.9,564.1 188.6,562.6 189.2,561.0 189.9,559.5 190.6,558.0 191.3,556.6 192.0,555.1 192.6,553.7 193.3,552.3 194.0,550.9 194.7,549.6 195.3,548.3 196.0,547.1 196.7,545.8 197.4,544.6 198.1,543.5 198.7,542.4 199.4,541.3 200.1,540.3 200.8,539.3 201.4,538.4 202.1,537.5 202.8,536.7 203.5,535.9 204.1,535.2 204.8,534.5 205.5,533.9 206.2,533.3 206.9,532.8 207.5,532.3 208.2,531.9 208.9,531.5 209.6,531.2 210.2,530.9 210.9,530.7 211.6,530.5 212.3,530.4 212.9,530.4 213.6,530.3 214.3,530.4 215.0,530.4 215.7,530.5 216.3,530.6 217.0,530.8 217.7,531.0 218.4,531.3 219.0,531.6 219.7,531.9 220.4,532.2 221.1,532.6 221.7,533.0 222.4,533.4 223.1,533.9 223.8,534.4 224.5,534.9 225.1,535.5 225.8,536.1 226.5,536.7 227.2,537.3 227.8,537.9 228.5,538.6 229.2,539.3 229.9,540.0 230.5,540.7 231.2,541.4 231.9,542.2 232.6,542.9 233.3,543.7 233.9,544.5 234.6,545.3 235.3,546.2 236.0,547.0 236.6,547.8 237.3,548.7 238.0,549.5 238.7,550.4 239.3,551.3 240.0,552.1 240.7,553.0 241.4,553.9 242.1,554.8 242.7,555.7 243.4,556.6 244.1,557.5 244.8,558.4 245.4,559.3 246.1,560.1 246.8,561.0 247.5,561.9 248.1,562.8 248.8,563.7 249.5,564.6 250.2,565.5 250.9,566.3 251.5,567.2 252.2,568.1 252.9,568.9 253.6,569.8 254.2,570.6 254.9,571.5 255.6,572.3 256.3,573.1 257.0,573.9 257.6,574.8 258.3,575.6 259.0,576.4 259.7,577.1 260.3,577.9 261.0,578.7 261.7,579.4 262.4,580.2 263.0,580.9 263.7,581.7 264.4,582.4 265.1,583.1 265.8,583.8 266.4,584.5 267.1,585.2 267.8,585.9 268.5,586.5 269.1,587.2 269.8,587.8 270.5,588.5 271.2,589.1 271.8,589.7 272.5,590.3 273.2,590.9 273.9,591.5 274.6,592.1 275.2,592.6 275.9,593.2 276.6,593.7 277.3,594.3 277.9,594.8 278.6,595.3 279.3,595.8 280.0,596.3 280.6,596.8 281.3,597.3 282.0,597.8 282.7,598.2 283.4,598.7 284.0,599.1 284.7,599.5 285.4,600.0 286.1,600.4 286.7,600.8 287.4,601.2 288.1,601.6 288.8,602.0 289.4,602.3 290.1,602.7 290.8,603.1 291.5,603.4 292.2,603.8 292.8,604.1 293.5,604.4 294.2,604.8 294.9,605.1 295.5,605.4 296.2,605.7 296.9,606.0 297.6,606.3 298.2,606.5 298.9,606.8 299.6,607.1 300.3,607.3 301.0,607.6 301.6,607.8 302.3,608.1 303.0,608.3 303.7,608.6 304.3,608.8 305.0,609.0 305.7,609.2 306.4,609.4 307.0,609.6 307.7,609.8 308.4,610.0 309.1,610.2 309.8,610.4 310.4,610.6 311.1,610.8 311.8,610.9 312.5,611.1 313.1,611.3 313.8,611.4 314.5,611.6 315.2,611.7 315.8,611.9 316.5,612.0 317.2,612.1 317.9,612.3 318.6,612.4 319.2,612.5 319.9,612.7 320.6,612.8 321.3,612.9 321.9,613.0 322.6,613.1 323.3,613.2 324.0,613.4 324.7,613.5 325.3,613.6 326.0,613.7 326.7,613.8 327.4,613.8 328.0,613.9 328.7,614.0 329.4,614.1 330.1,614.2 330.7,614.3 331.4,614.4 332.1,614.4 332.8,614.5 333.5,614.6 334.1,614.6 334.8,614.7 335.5,614.8 336.2,614.8 336.8,614.9 337.5,615.0 338.2,615.0 338.9,615.1 339.5,615.1 340.2,615.2 340.9,615.3 341.6,615.3 342.3,615.4 342.9,615.4 343.6,615.4 344.3,615.5 345.0,615.5 345.6,615.6 346.3,615.6 347.0,615.7 347.7,615.7 348.3,615.7 349.0,615.8 349.7,615.8 350.4,615.9 351.1,615.9 351.7,615.9 352.4,616.0 353.1,616.0 353.8,616.0 354.4,616.0 355.1,616.1 355.8,616.1 356.5,616.1 357.1,616.2 357.8,616.2 358.5,616.2 359.2,616.2 359.9,616.3 360.5,616.3 361.2,616.3 361.9,616.3 362.6,616.3 363.2,616.4 363.9,616.4 364.6,616.4 365.3,616.4 365.9,616.4 366.6,616.4 367.3,616.5 368.0,616.5 368.7,616.5 369.3,616.5 370.0,616.5 370.7,616.5 371.4,616.6 372.0,616.6 372.7,616.6 373.4,616.6 374.1,616.6 374.7,616.6 375.4,616.6 376.1,616.6 376.8,616.7 377.5,616.7 378.1,616.7 378.8,616.7 379.5,616.7 380.2,616.7 380.8,616.7 381.5,616.7 382.2,616.7 382.9,616.7 383.5,616.7 384.2,616.8 384.9,616.8 385.6,616.8 386.3,616.8 386.9,616.8 387.6,616.8 388.3,616.8 389.0,616.8 389.6,616.8 390.3,616.8 391.0,616.8 391.7,616.8 392.4,616.8 393.0,616.8 393.7,616.8 394.4,616.8 395.1,616.9 395.7,616.9 396.4,616.9 397.1,616.9 397.8,616.9 398.4,616.9 399.1,616.9 399.8,616.9 400.5,616.9 401.2,616.9 401.8,616.9 402.5,616.9 403.2,616.9 403.9,616.9 404.5,616.9 405.2,616.9 405.9,616.9 406.6,616.9 407.2,616.9 407.9,616.9 408.6,616.9 409.3,616.9 410.0,616.9 410.6,616.9 411.3,616.9 412.0,616.9 412.7,616.9 413.3,616.9 414.0,616.9 414.7,616.9 415.4,616.9 416.0,616.9 416.7,616.9 417.4,616.9 418.1,616.9 418.8,617.0 419.4,617.0 420.1,617.0 420.8,617.0 421.5,617.0 422.1,617.0 422.8,617.0 423.5,617.0 424.2,617.0 424.8,617.0 425.5,617.0 426.2,617.0 426.9,617.0 427.6,617.0 428.2,617.0 428.9,617.0 429.6,617.0 430.3,617.0 430.9,617.0 431.6,617.0 432.3,617.0 433.0,617.0 433.6,617.0 434.3,617.0 435.0,617.0 435.7,617.0 436.4,617.0 437.0,617.0 437.7,617.0 438.4,617.0 439.1,617.0 439.7,617.0 440.4,617.0 441.1,617.0 441.8,617.0 442.4,617.0 443.1,617.0 443.8,617.0 444.5,617.0 445.2,617.0 445.8,617.0 446.5,617.0 447.2,617.0 447.9,617.0 448.5,617.0 449.2,617.0 449.9,617.0 450.6,617.0 451.2,617.0 451.9,617.0 452.6,617.0 453.3,617.0 454.0,617.0 454.6,617.0 455.3,617.0 456.0,617.0 456.7,617.0 457.3,617.0 458.0,617.0 458.7,617.0 459.4,617.0 460.1,617.0 460.7,617.0 461.4,617.0 462.1,617.0 462.8,617.0 463.4,617.0 464.1,617.0 464.8,617.0 465.5,617.0 466.1,617.0 466.8,617.0 467.5,617.0 468.2,617.0 468.9,617.0 469.5,617.0 470.2,617.0 470.9,617.0 471.6,617.0 472.2,617.0 472.9,617.0 473.6,617.0 474.3,617.0 474.9,617.0 475.6,617.0 476.3,617.0 477.0,617.0 477.7,617.0 478.3,617.0 479.0,617.0 479.7,617.0 480.4,617.0 481.0,617.0 481.7,617.0 482.4,617.0 483.1,617.0 483.7,617.0 484.4,617.0 485.1,617.0 485.8,617.0 486.5,617.0 487.1,617.0 487.8,617.0 488.5,617.0 489.2,617.0 489.8,617.0 490.5,617.0 491.2,617.0 491.9,617.0 492.5,617.0 493.2,617.0" fill="none" stroke="#245c9c" stroke-width="2.2" stroke-dasharray="12,6" stroke-dashoffset="17.7"/>
<path d="M87.70,617.0v-8.6M87.70,12.349999999999909v8.6M101.24,617.0v-4.4M101.24,12.349999999999909v4.4M114.78,617.0v-4.4M114.78,12.349999999999909v4.4M128.32,617.0v-4.4M128.32,12.349999999999909v4.4M141.86,617.0v-4.4M141.86,12.349999999999909v4.4M155.40,617.0v-8.6M155.40,12.349999999999909v8.6M168.94,617.0v-4.4M168.94,12.349999999999909v4.4M182.48,617.0v-4.4M182.48,12.349999999999909v4.4M196.02,617.0v-4.4M196.02,12.349999999999909v4.4M209.56,617.0v-4.4M209.56,12.349999999999909v4.4M223.10,617.0v-8.6M223.10,12.349999999999909v8.6M236.64,617.0v-4.4M236.64,12.349999999999909v4.4M250.18,617.0v-4.4M250.18,12.349999999999909v4.4M263.72,617.0v-4.4M263.72,12.349999999999909v4.4M277.26,617.0v-4.4M277.26,12.349999999999909v4.4M290.80,617.0v-8.6M290.80,12.349999999999909v8.6M304.34,617.0v-4.4M304.34,12.349999999999909v4.4M317.88,617.0v-4.4M317.88,12.349999999999909v4.4M331.42,617.0v-4.4M331.42,12.349999999999909v4.4M344.96,617.0v-4.4M344.96,12.349999999999909v4.4M358.50,617.0v-8.6M358.50,12.349999999999909v8.6M372.04,617.0v-4.4M372.04,12.349999999999909v4.4M385.58,617.0v-4.4M385.58,12.349999999999909v4.4M399.12,617.0v-4.4M399.12,12.349999999999909v4.4M412.66,617.0v-4.4M412.66,12.349999999999909v4.4M426.20,617.0v-8.6M426.20,12.349999999999909v8.6M439.74,617.0v-4.4M439.74,12.349999999999909v4.4M453.28,617.0v-4.4M453.28,12.349999999999909v4.4M466.82,617.0v-4.4M466.82,12.349999999999909v4.4M480.36,617.0v-4.4M480.36,12.349999999999909v4.4M493.90,617.0v-8.6M493.90,12.349999999999909v8.6M507.44,617.0v-4.4M507.44,12.349999999999909v4.4M520.98,617.0v-4.4M520.98,12.349999999999909v4.4M534.52,617.0v-4.4M534.52,12.349999999999909v4.4M548.06,617.0v-4.4M548.06,12.349999999999909v4.4M561.60,617.0v-8.6M561.60,12.349999999999909v8.6M575.14,617.0v-4.4M575.14,12.349999999999909v4.4M588.68,617.0v-4.4M588.68,12.349999999999909v4.4M602.22,617.0v-4.4M602.22,12.349999999999909v4.4M615.76,617.0v-4.4M615.76,12.349999999999909v4.4M629.30,617.0v-8.6M629.30,12.349999999999909v8.6M87.7,617.00h8.6M629.30,617.00h-8.6M87.7,596.85h4.4M629.30,596.85h-4.4M87.7,576.69h4.4M629.30,576.69h-4.4M87.7,556.53h4.4M629.30,556.53h-4.4M87.7,536.38h4.4M629.30,536.38h-4.4M87.7,516.23h4.4M629.30,516.23h-4.4M87.7,496.07h4.4M629.30,496.07h-4.4M87.7,475.91h4.4M629.30,475.91h-4.4M87.7,455.76h4.4M629.30,455.76h-4.4M87.7,435.61h4.4M629.30,435.61h-4.4M87.7,415.45h8.6M629.30,415.45h-8.6M87.7,395.29h4.4M629.30,395.29h-4.4M87.7,375.14h4.4M629.30,375.14h-4.4M87.7,354.98h4.4M629.30,354.98h-4.4M87.7,334.83h4.4M629.30,334.83h-4.4M87.7,314.67h4.4M629.30,314.67h-4.4M87.7,294.52h4.4M629.30,294.52h-4.4M87.7,274.36h4.4M629.30,274.36h-4.4M87.7,254.21h4.4M629.30,254.21h-4.4M87.7,234.05h4.4M629.30,234.05h-4.4M87.7,213.90h8.6M629.30,213.90h-8.6M87.7,193.74h4.4M629.30,193.74h-4.4M87.7,173.59h4.4M629.30,173.59h-4.4M87.7,153.43h4.4M629.30,153.43h-4.4M87.7,133.28h4.4M629.30,133.28h-4.4M87.7,113.12h4.4M629.30,113.12h-4.4M87.7,92.97h4.4M629.30,92.97h-4.4M87.7,72.81h4.4M629.30,72.81h-4.4M87.7,52.66h4.4M629.30,52.66h-4.4M87.7,32.50h4.4M629.30,32.50h-4.4M87.7,12.35h8.6M629.30,12.35h-8.6" stroke="#333" stroke-width="1.7" fill="none"/><rect x="87.7" y="12.35" width="541.60" height="604.65" fill="none" stroke="#333" stroke-width="2.1"/><line x1="122.7" y1="616.0" x2="419.4" y2="616.0" stroke="#000" stroke-width="2.6"/>
<g font-size="30" fill="#000"><text transform="translate(88.6,649.9) scale(1,1.065)" text-anchor="middle">0</text><text transform="translate(156.3,649.9) scale(1,1.065)" text-anchor="middle">10</text><text transform="translate(224.0,649.9) scale(1,1.065)" text-anchor="middle">20</text><text transform="translate(291.7,649.9) scale(1,1.065)" text-anchor="middle">30</text><text transform="translate(359.4,649.9) scale(1,1.065)" text-anchor="middle">40</text><text transform="translate(427.1,649.9) scale(1,1.065)" text-anchor="middle">50</text><text transform="translate(494.8,649.9) scale(1,1.065)" text-anchor="middle">60</text><text transform="translate(562.5,649.9) scale(1,1.065)" text-anchor="middle">70</text><text transform="translate(630.2,649.9) scale(1,1.065)" text-anchor="middle">80</text><text transform="translate(79.1,22.0) scale(1,1.0)" text-anchor="end">1.5</text><text transform="translate(79.1,224.0) scale(1,1.065)" text-anchor="end">1.0</text><text transform="translate(79.1,426.2) scale(1,1.065)" text-anchor="end">0.5</text><text transform="translate(79.1,627.0) scale(1,1.065)" text-anchor="end">0</text></g>
<rect x="773.30" y="614.98" width="13.55" height="2.02" fill="#e1694b"/>
<rect x="773.30" y="504.13" width="13.55" height="110.85" fill="#e452e6"/>
<rect x="786.85" y="607.73" width="13.55" height="9.27" fill="#e1694b"/>
<rect x="786.85" y="126.02" width="13.55" height="481.70" fill="#e452e6"/>
<rect x="800.40" y="614.98" width="13.55" height="2.02" fill="#4bc32a"/>
<rect x="800.40" y="434.40" width="13.55" height="180.59" fill="#e1694b"/>
<rect x="800.40" y="253.81" width="13.55" height="180.59" fill="#e452e6"/>
<rect x="813.95" y="585.16" width="13.55" height="31.84" fill="#4bc32a"/>
<rect x="813.95" y="556.94" width="13.55" height="28.22" fill="#e1694b"/>
<rect x="813.95" y="136.50" width="13.55" height="420.43" fill="#eb9b55"/>
<rect x="827.50" y="596.04" width="13.55" height="20.96" fill="#2592b0"/>
<rect x="827.50" y="428.75" width="13.55" height="167.29" fill="#4bc32a"/>
<rect x="827.50" y="301.37" width="13.55" height="127.38" fill="#eb9b55"/>
<rect x="841.05" y="571.85" width="13.55" height="45.15" fill="#2592b0"/>
<rect x="841.05" y="489.22" width="13.55" height="82.64" fill="#4bc32a"/>
<rect x="841.05" y="368.29" width="13.55" height="120.93" fill="#56e060"/>
<rect x="854.60" y="566.21" width="13.55" height="50.79" fill="#2592b0"/>
<rect x="854.60" y="537.59" width="13.55" height="28.62" fill="#2592b0"/>
<rect x="854.60" y="450.92" width="13.55" height="86.67" fill="#56e060"/>
<rect x="868.15" y="606.92" width="13.55" height="10.08" fill="#2592b0"/>
<rect x="868.15" y="523.48" width="13.55" height="83.44" fill="#2592b0"/>
<rect x="868.15" y="450.92" width="13.55" height="72.56" fill="#56e060"/>
<rect x="881.70" y="563.39" width="13.55" height="53.61" fill="#2592b0"/>
<rect x="881.70" y="558.15" width="13.55" height="5.24" fill="#5aa2e8"/>
<rect x="895.25" y="593.62" width="13.55" height="23.38" fill="#2592b0"/>
<rect x="895.25" y="544.04" width="13.55" height="49.58" fill="#5aa2e8"/>
<rect x="908.80" y="606.52" width="13.55" height="10.48" fill="#2592b0"/>
<rect x="908.80" y="552.10" width="13.55" height="54.42" fill="#5aa2e8"/>
<rect x="922.35" y="608.13" width="13.55" height="8.87" fill="#2592b0"/>
<rect x="922.35" y="602.09" width="13.55" height="6.05" fill="#5aa2e8"/>
<rect x="949.45" y="590.80" width="13.55" height="26.20" fill="#5aa2e8"/>
<rect x="976.55" y="610.15" width="13.55" height="6.85" fill="#5aa2e8"/>
<path d="M813.40,556.94H828.05M840.50,489.22H855.15M854.05,566.21H868.70M867.60,606.92H882.25M881.15,563.39H895.80M894.70,593.62H909.35M908.25,606.52H922.90M921.80,608.13H936.45" stroke="#000" stroke-opacity="0.3" stroke-width="1.9" fill="none"/>
<path d="M773.70,617.0V504.13M786.45,617.0V504.13M772.75,504.13H787.40M787.25,617.0V126.02M800.00,617.0V126.02M786.30,126.02H800.95M800.80,617.0V253.81M813.55,617.0V253.81M799.85,253.81H814.50M814.35,617.0V556.94M827.10,617.0V556.94M773.70,617.0V614.98M786.45,617.0V614.98M772.75,614.98H787.40M787.25,617.0V607.73M800.00,617.0V607.73M786.30,607.73H800.95M800.80,617.0V434.40M813.55,617.0V434.40M799.85,434.40H814.50M814.35,617.0V136.50M827.10,617.0V136.50M813.40,136.50H828.05M827.90,617.0V301.37M840.65,617.0V301.37M826.95,301.37H841.60M841.45,617.0V489.22M854.20,617.0V489.22M855.00,617.0V566.21M867.75,617.0V566.21M868.55,617.0V606.92M881.30,617.0V606.92M800.80,617.0V614.98M813.55,617.0V614.98M799.85,614.98H814.50M814.35,617.0V585.16M827.10,617.0V585.16M813.40,585.16H828.05M827.90,617.0V428.75M840.65,617.0V428.75M826.95,428.75H841.60M841.45,617.0V368.29M854.20,617.0V368.29M840.50,368.29H855.15M855.00,617.0V450.92M867.75,617.0V450.92M854.05,450.92H868.70M868.55,617.0V450.92M881.30,617.0V450.92M867.60,450.92H882.25M882.10,617.0V563.39M894.85,617.0V563.39M895.65,617.0V593.62M908.40,617.0V593.62M909.20,617.0V606.52M921.95,617.0V606.52M922.75,617.0V608.13M935.50,617.0V608.13M827.90,617.0V596.04M840.65,617.0V596.04M826.95,596.04H841.60M841.45,617.0V571.85M854.20,617.0V571.85M840.50,571.85H855.15M855.00,617.0V537.59M867.75,617.0V537.59M854.05,537.59H868.70M868.55,617.0V523.48M881.30,617.0V523.48M867.60,523.48H882.25M882.10,617.0V558.15M894.85,617.0V558.15M881.15,558.15H895.80M895.65,617.0V544.04M908.40,617.0V544.04M894.70,544.04H909.35M909.20,617.0V552.10M921.95,617.0V552.10M908.25,552.10H922.90M922.75,617.0V602.09M935.50,617.0V602.09M921.80,602.09H936.45M949.85,617.0V590.80M962.60,617.0V590.80M948.90,590.80H963.55M976.95,617.0V610.15M989.70,617.0V610.15M976.00,610.15H990.65" stroke="#000" stroke-width="1.9" fill="none"/>
<polyline points="742.9,617.0 743.6,617.0 744.2,617.0 744.9,616.9 745.6,616.9 746.3,616.9 747.0,616.9 747.6,616.9 748.3,616.9 749.0,616.9 749.7,616.9 750.3,616.8 751.0,616.8 751.7,616.8 752.4,616.8 753.0,616.7 753.7,616.7 754.4,616.7 755.1,616.6 755.8,616.6 756.4,616.5 757.1,616.5 757.8,616.4 758.5,616.4 759.1,616.3 759.8,616.2 760.5,616.1 761.2,616.0 761.9,615.8 762.5,615.7 763.2,615.5 763.9,615.3 764.6,615.1 765.2,614.8 765.9,614.5 766.6,614.2 767.3,613.8 768.0,613.4 768.6,612.9 769.3,612.3 770.0,611.7 770.7,610.9 771.3,610.1 772.0,609.1 772.7,608.0 773.4,606.6 774.1,605.1 774.7,603.4 775.4,601.4 776.1,599.0 776.8,596.3 777.4,592.0 778.1,584.4 778.8,575.2 779.5,564.2 780.1,551.3 780.8,536.4 781.5,519.5 782.2,500.5 782.9,479.7 783.5,457.0 784.2,432.8 784.9,407.1 785.6,380.5 786.2,353.1 786.9,325.4 787.6,297.8 788.3,270.7 789.0,244.5 789.6,219.6 790.3,196.5 791.0,175.4 791.7,156.6 792.3,140.4 793.0,127.0 793.7,116.5 794.4,109.0 795.1,104.5 795.7,103.0 796.4,103.7 797.1,105.8 797.8,109.1 798.4,113.7 799.1,119.4 799.8,126.2 800.5,133.9 801.2,142.6 801.8,152.0 802.5,162.2 803.2,173.0 803.9,184.4 804.5,196.3 805.2,208.5 805.9,221.1 806.6,233.9 807.2,246.8 807.9,259.9 808.6,273.0 809.3,286.2 810.0,299.2 810.6,312.2 811.3,325.0 812.0,337.7 812.7,350.1 813.3,362.3 814.0,374.2 814.7,385.8 815.4,397.0 816.1,408.0 816.7,418.6 817.4,428.9 818.1,438.8 818.8,448.3 819.4,457.5 820.1,466.3 820.8,474.7 821.5,482.8 822.2,490.6 822.8,497.9 823.5,505.0 824.2,511.6 824.9,518.0 825.5,524.0 826.2,529.8 826.9,535.2 827.6,540.4 828.3,545.2 828.9,549.8 829.6,554.1 830.3,558.2 831.0,562.1 831.6,565.7 832.3,569.1 833.0,572.3 833.7,575.4 834.3,578.2 835.0,580.8 835.7,583.3 836.4,585.7 837.1,587.8 837.7,589.9 838.4,591.8 839.1,593.6 839.8,595.2 840.4,596.8 841.1,598.2 841.8,599.6 842.5,600.8 843.2,602.0 843.8,603.1 844.5,604.1 845.2,605.1 845.9,606.0 846.5,606.8 847.2,607.5 847.9,608.2 848.6,608.9 849.3,609.5 849.9,610.1 850.6,610.6 851.3,611.1 852.0,611.5 852.6,611.9 853.3,612.3 854.0,612.7 854.7,613.0 855.4,613.3 856.0,613.6 856.7,613.9 857.4,614.1 858.1,614.3 858.7,614.5 859.4,614.7 860.1,614.9 860.8,615.1 861.4,615.2 862.1,615.4 862.8,615.5 863.5,615.6 864.2,615.7 864.8,615.8 865.5,615.9 866.2,616.0 866.9,616.1 867.5,616.1 868.2,616.2 868.9,616.3 869.6,616.3 870.3,616.4 870.9,616.4 871.6,616.5 872.3,616.5 873.0,616.6 873.6,616.6 874.3,616.6 875.0,616.7 875.7,616.7 876.4,616.7 877.0,616.7 877.7,616.8 878.4,616.8 879.1,616.8 879.7,616.8 880.4,616.8 881.1,616.8 881.8,616.9 882.5,616.9 883.1,616.9 883.8,616.9 884.5,616.9 885.2,616.9 885.8,616.9 886.5,616.9 887.2,616.9 887.9,616.9 888.6,616.9 889.2,616.9 889.9,616.9 890.6,616.9 891.3,617.0 891.9,617.0 892.6,617.0 893.3,617.0 894.0,617.0 894.6,617.0 895.3,617.0 896.0,617.0 896.7,617.0 897.4,617.0 898.0,617.0 898.7,617.0 899.4,617.0 900.1,617.0 900.7,617.0 901.4,617.0 902.1,617.0 902.8,617.0 903.5,617.0 904.1,617.0 904.8,617.0 905.5,617.0 906.2,617.0 906.8,617.0 907.5,617.0 908.2,617.0 908.9,617.0 909.6,617.0 910.2,617.0 910.9,617.0 911.6,617.0 912.3,617.0 912.9,617.0 913.6,617.0 914.3,617.0 915.0,617.0 915.7,617.0 916.3,617.0 917.0,617.0 917.7,617.0 918.4,617.0 919.0,617.0 919.7,617.0 920.4,617.0 921.1,617.0 921.7,617.0 922.4,617.0 923.1,617.0 923.8,617.0 924.5,617.0 925.1,617.0 925.8,617.0 926.5,617.0 927.2,617.0 927.8,617.0 928.5,617.0 929.2,617.0 929.9,617.0 930.6,617.0 931.2,617.0 931.9,617.0 932.6,617.0 933.3,617.0 933.9,617.0 934.6,617.0 935.3,617.0 936.0,617.0 936.7,617.0 937.3,617.0 938.0,617.0 938.7,617.0 939.4,617.0 940.0,617.0 940.7,617.0 941.4,617.0 942.1,617.0 942.8,617.0 943.4,617.0 944.1,617.0 944.8,617.0 945.5,617.0 946.1,617.0 946.8,617.0 947.5,617.0 948.2,617.0 948.8,617.0 949.5,617.0 950.2,617.0 950.9,617.0 951.6,617.0 952.2,617.0 952.9,617.0 953.6,617.0 954.3,617.0 954.9,617.0 955.6,617.0 956.3,617.0 957.0,617.0 957.7,617.0 958.3,617.0 959.0,617.0 959.7,617.0 960.4,617.0 961.0,617.0 961.7,617.0 962.4,617.0 963.1,617.0 963.8,617.0 964.4,617.0 965.1,617.0 965.8,617.0 966.5,617.0 967.1,617.0 967.8,617.0 968.5,617.0 969.2,617.0 969.9,617.0 970.5,617.0 971.2,617.0 971.9,617.0 972.6,617.0 973.2,617.0 973.9,617.0 974.6,617.0 975.3,617.0 975.9,617.0 976.6,617.0 977.3,617.0 978.0,617.0 978.7,617.0 979.3,617.0 980.0,617.0 980.7,617.0 981.4,617.0 982.0,617.0 982.7,617.0 983.4,617.0 984.1,617.0 984.8,617.0 985.4,617.0 986.1,617.0 986.8,617.0 987.5,617.0 988.1,617.0 988.8,617.0 989.5,617.0 990.2,617.0 990.9,617.0 991.5,617.0 992.2,617.0 992.9,617.0 993.6,617.0 994.2,617.0 994.9,617.0 995.6,617.0 996.3,617.0 997.0,617.0 997.6,617.0 998.3,617.0 999.0,617.0 999.7,617.0 1000.3,617.0 1001.0,617.0 1001.7,617.0 1002.4,617.0 1003.0,617.0 1003.7,617.0 1004.4,617.0 1005.1,617.0 1005.8,617.0 1006.4,617.0 1007.1,617.0 1007.8,617.0 1008.5,617.0 1009.1,617.0 1009.8,617.0 1010.5,617.0 1011.2,617.0 1011.9,617.0 1012.5,617.0 1013.2,617.0 1013.9,617.0 1014.6,617.0 1015.2,617.0 1015.9,617.0 1016.6,617.0 1017.3,617.0 1018.0,617.0 1018.6,617.0 1019.3,617.0 1020.0,617.0 1020.7,617.0 1021.3,617.0 1022.0,617.0 1022.7,617.0 1023.4,617.0 1024.1,617.0 1024.7,617.0 1025.4,617.0 1026.1,617.0 1026.8,617.0 1027.4,617.0 1028.1,617.0 1028.8,617.0 1029.5,617.0 1030.1,617.0 1030.8,617.0 1031.5,617.0 1032.2,617.0 1032.9,617.0 1033.5,617.0 1034.2,617.0 1034.9,617.0 1035.6,617.0 1036.2,617.0 1036.9,617.0 1037.6,617.0 1038.3,617.0 1039.0,617.0 1039.6,617.0 1040.3,617.0 1041.0,617.0 1041.7,617.0 1042.3,617.0 1043.0,617.0 1043.7,617.0 1044.4,617.0 1045.1,617.0 1045.7,617.0 1046.4,617.0 1047.1,617.0 1047.8,617.0 1048.4,617.0 1049.1,617.0 1049.8,617.0 1050.5,617.0 1051.2,617.0 1051.8,617.0 1052.5,617.0 1053.2,617.0 1053.9,617.0 1054.5,617.0 1055.2,617.0 1055.9,617.0 1056.6,617.0 1057.2,617.0 1057.9,617.0 1058.6,617.0 1059.3,617.0 1060.0,617.0 1060.6,617.0 1061.3,617.0 1062.0,617.0 1062.7,617.0 1063.3,617.0 1064.0,617.0 1064.7,617.0 1065.4,617.0 1066.1,617.0 1066.7,617.0 1067.4,617.0 1068.1,617.0 1068.8,617.0 1069.4,617.0 1070.1,617.0 1070.8,617.0 1071.5,617.0 1072.2,617.0 1072.8,617.0 1073.5,617.0 1074.2,617.0 1074.9,617.0 1075.5,617.0 1076.2,617.0 1076.9,617.0 1077.6,617.0 1078.3,617.0 1078.9,617.0 1079.6,617.0 1080.3,617.0 1081.0,617.0 1081.6,617.0 1082.3,617.0 1083.0,617.0 1083.7,617.0 1084.3,617.0 1085.0,617.0 1085.7,617.0 1086.4,617.0 1087.1,617.0 1087.7,617.0 1088.4,617.0 1089.1,617.0 1089.8,617.0 1090.4,617.0 1091.1,617.0 1091.8,617.0 1092.5,617.0 1093.2,617.0 1093.8,617.0 1094.5,617.0 1095.2,617.0 1095.9,617.0 1096.5,617.0 1097.2,617.0 1097.9,617.0 1098.6,617.0 1099.3,617.0 1099.9,617.0 1100.6,617.0 1101.3,617.0 1102.0,617.0 1102.6,617.0 1103.3,617.0 1104.0,617.0 1104.7,617.0 1105.4,617.0 1106.0,617.0 1106.7,617.0 1107.4,617.0 1108.1,617.0 1108.7,617.0 1109.4,617.0 1110.1,617.0 1110.8,617.0 1111.4,617.0 1112.1,617.0 1112.8,617.0 1113.5,617.0 1114.2,617.0 1114.8,617.0 1115.5,617.0 1116.2,617.0 1116.9,617.0 1117.5,617.0 1118.2,617.0 1118.9,617.0 1119.6,617.0 1120.3,617.0 1120.9,617.0 1121.6,617.0 1122.3,617.0 1123.0,617.0 1123.6,617.0 1124.3,617.0 1125.0,617.0 1125.7,617.0 1126.4,617.0 1127.0,617.0 1127.7,617.0 1128.4,617.0 1129.1,617.0 1129.7,617.0 1130.4,617.0 1131.1,617.0 1131.8,617.0 1132.5,617.0 1133.1,617.0 1133.8,617.0 1134.5,617.0 1135.2,617.0 1135.8,617.0 1136.5,617.0 1137.2,617.0 1137.9,617.0 1138.5,617.0 1139.2,617.0 1139.9,617.0 1140.6,617.0 1141.3,617.0 1141.9,617.0 1142.6,617.0 1143.3,617.0 1144.0,617.0 1144.6,617.0 1145.3,617.0" fill="none" stroke="#a532a8" stroke-width="2.2" stroke-dasharray="12,6" stroke-dashoffset="5.9"/>
<polyline points="742.9,617.0 743.6,617.0 744.2,617.0 744.9,617.0 745.6,617.0 746.3,617.0 747.0,617.0 747.6,617.0 748.3,617.0 749.0,617.0 749.7,617.0 750.3,617.0 751.0,617.0 751.7,617.0 752.4,617.0 753.0,617.0 753.7,616.9 754.4,616.9 755.1,616.9 755.8,616.9 756.4,616.9 757.1,616.9 757.8,616.9 758.5,616.9 759.1,616.9 759.8,616.9 760.5,616.9 761.2,616.9 761.9,616.9 762.5,616.9 763.2,616.9 763.9,616.9 764.6,616.8 765.2,616.8 765.9,616.8 766.6,616.8 767.3,616.8 768.0,616.8 768.6,616.8 769.3,616.7 770.0,616.7 770.7,616.7 771.3,616.7 772.0,616.6 772.7,616.6 773.4,616.6 774.1,616.5 774.7,616.5 775.4,616.5 776.1,616.4 776.8,616.4 777.4,616.3 778.1,616.2 778.8,616.2 779.5,616.1 780.1,616.0 780.8,615.9 781.5,615.8 782.2,615.7 782.9,615.6 783.5,615.5 784.2,615.3 784.9,615.2 785.6,615.0 786.2,614.8 786.9,614.6 787.6,614.4 788.3,614.1 789.0,613.8 789.6,613.5 790.3,613.1 791.0,612.7 791.7,612.2 792.3,611.7 793.0,611.1 793.7,610.5 794.4,609.7 795.1,608.7 795.7,606.4 796.4,603.6 797.1,600.3 797.8,596.3 798.4,591.7 799.1,586.3 799.8,580.0 800.5,572.9 801.2,564.8 801.8,555.7 802.5,545.6 803.2,534.4 803.9,522.2 804.5,509.0 805.2,494.7 805.9,479.5 806.6,463.4 807.2,446.5 807.9,428.8 808.6,410.6 809.3,391.9 810.0,372.9 810.6,353.7 811.3,334.6 812.0,315.6 812.7,296.9 813.3,278.8 814.0,261.3 814.7,244.6 815.4,229.0 816.1,214.5 816.7,201.2 817.4,189.3 818.1,178.8 818.8,169.8 819.4,162.5 820.1,156.7 820.8,152.7 821.5,150.2 822.2,149.4 822.8,150.0 823.5,151.8 824.2,154.8 824.9,158.8 825.5,163.9 826.2,170.0 826.9,177.0 827.6,184.8 828.3,193.5 828.9,202.8 829.6,212.7 830.3,223.3 831.0,234.3 831.6,245.7 832.3,257.4 833.0,269.4 833.7,281.6 834.3,294.0 835.0,306.4 835.7,318.9 836.4,331.3 837.1,343.7 837.7,355.9 838.4,367.9 839.1,379.8 839.8,391.4 840.4,402.8 841.1,413.9 841.8,424.6 842.5,435.1 843.2,445.2 843.8,455.0 844.5,464.3 845.2,473.4 845.9,482.0 846.5,490.3 847.2,498.2 847.9,505.8 848.6,513.0 849.3,519.8 849.9,526.3 850.6,532.4 851.3,538.2 852.0,543.7 852.6,548.8 853.3,553.7 854.0,558.2 854.7,562.5 855.4,566.5 856.0,570.3 856.7,573.8 857.4,577.1 858.1,580.2 858.7,583.1 859.4,585.7 860.1,588.2 860.8,590.5 861.4,592.6 862.1,594.6 862.8,596.5 863.5,598.1 864.2,599.7 864.8,601.2 865.5,602.5 866.2,603.7 866.9,604.9 867.5,605.9 868.2,606.9 868.9,607.8 869.6,608.6 870.3,609.3 870.9,610.0 871.6,610.6 872.3,611.2 873.0,611.7 873.6,612.2 874.3,612.6 875.0,613.0 875.7,613.4 876.4,613.7 877.0,614.0 877.7,614.3 878.4,614.6 879.1,614.8 879.7,615.0 880.4,615.2 881.1,615.4 881.8,615.5 882.5,615.7 883.1,615.8 883.8,615.9 884.5,616.0 885.2,616.1 885.8,616.2 886.5,616.3 887.2,616.4 887.9,616.4 888.6,616.5 889.2,616.5 889.9,616.6 890.6,616.6 891.3,616.7 891.9,616.7 892.6,616.7 893.3,616.7 894.0,616.8 894.6,616.8 895.3,616.8 896.0,616.8 896.7,616.9 897.4,616.9 898.0,616.9 898.7,616.9 899.4,616.9 900.1,616.9 900.7,616.9 901.4,616.9 902.1,616.9 902.8,616.9 903.5,617.0 904.1,617.0 904.8,617.0 905.5,617.0 906.2,617.0 906.8,617.0 907.5,617.0 908.2,617.0 908.9,617.0 909.6,617.0 910.2,617.0 910.9,617.0 911.6,617.0 912.3,617.0 912.9,617.0 913.6,617.0 914.3,617.0 915.0,617.0 915.7,617.0 916.3,617.0 917.0,617.0 917.7,617.0 918.4,617.0 919.0,617.0 919.7,617.0 920.4,617.0 921.1,617.0 921.7,617.0 922.4,617.0 923.1,617.0 923.8,617.0 924.5,617.0 925.1,617.0 925.8,617.0 926.5,617.0 927.2,617.0 927.8,617.0 928.5,617.0 929.2,617.0 929.9,617.0 930.6,617.0 931.2,617.0 931.9,617.0 932.6,617.0 933.3,617.0 933.9,617.0 934.6,617.0 935.3,617.0 936.0,617.0 936.7,617.0 937.3,617.0 938.0,617.0 938.7,617.0 939.4,617.0 940.0,617.0 940.7,617.0 941.4,617.0 942.1,617.0 942.8,617.0 943.4,617.0 944.1,617.0 944.8,617.0 945.5,617.0 946.1,617.0 946.8,617.0 947.5,617.0 948.2,617.0 948.8,617.0 949.5,617.0 950.2,617.0 950.9,617.0 951.6,617.0 952.2,617.0 952.9,617.0 953.6,617.0 954.3,617.0 954.9,617.0 955.6,617.0 956.3,617.0 957.0,617.0 957.7,617.0 958.3,617.0 959.0,617.0 959.7,617.0 960.4,617.0 961.0,617.0 961.7,617.0 962.4,617.0 963.1,617.0 963.8,617.0 964.4,617.0 965.1,617.0 965.8,617.0 966.5,617.0 967.1,617.0 967.8,617.0 968.5,617.0 969.2,617.0 969.9,617.0 970.5,617.0 971.2,617.0 971.9,617.0 972.6,617.0 973.2,617.0 973.9,617.0 974.6,617.0 975.3,617.0 975.9,617.0 976.6,617.0 977.3,617.0 978.0,617.0 978.7,617.0 979.3,617.0 980.0,617.0 980.7,617.0 981.4,617.0 982.0,617.0 982.7,617.0 983.4,617.0 984.1,617.0 984.8,617.0 985.4,617.0 986.1,617.0 986.8,617.0 987.5,617.0 988.1,617.0 988.8,617.0 989.5,617.0 990.2,617.0 990.9,617.0 991.5,617.0 992.2,617.0 992.9,617.0 993.6,617.0 994.2,617.0 994.9,617.0 995.6,617.0 996.3,617.0 997.0,617.0 997.6,617.0 998.3,617.0 999.0,617.0 999.7,617.0 1000.3,617.0 1001.0,617.0 1001.7,617.0 1002.4,617.0 1003.0,617.0 1003.7,617.0 1004.4,617.0 1005.1,617.0 1005.8,617.0 1006.4,617.0 1007.1,617.0 1007.8,617.0 1008.5,617.0 1009.1,617.0 1009.8,617.0 1010.5,617.0 1011.2,617.0 1011.9,617.0 1012.5,617.0 1013.2,617.0 1013.9,617.0 1014.6,617.0 1015.2,617.0 1015.9,617.0 1016.6,617.0 1017.3,617.0 1018.0,617.0 1018.6,617.0 1019.3,617.0 1020.0,617.0 1020.7,617.0 1021.3,617.0 1022.0,617.0 1022.7,617.0 1023.4,617.0 1024.1,617.0 1024.7,617.0 1025.4,617.0 1026.1,617.0 1026.8,617.0 1027.4,617.0 1028.1,617.0 1028.8,617.0 1029.5,617.0 1030.1,617.0 1030.8,617.0 1031.5,617.0 1032.2,617.0 1032.9,617.0 1033.5,617.0 1034.2,617.0 1034.9,617.0 1035.6,617.0 1036.2,617.0 1036.9,617.0 1037.6,617.0 1038.3,617.0 1039.0,617.0 1039.6,617.0 1040.3,617.0 1041.0,617.0 1041.7,617.0 1042.3,617.0 1043.0,617.0 1043.7,617.0 1044.4,617.0 1045.1,617.0 1045.7,617.0 1046.4,617.0 1047.1,617.0 1047.8,617.0 1048.4,617.0 1049.1,617.0 1049.8,617.0 1050.5,617.0 1051.2,617.0 1051.8,617.0 1052.5,617.0 1053.2,617.0 1053.9,617.0 1054.5,617.0 1055.2,617.0 1055.9,617.0 1056.6,617.0 1057.2,617.0 1057.9,617.0 1058.6,617.0 1059.3,617.0 1060.0,617.0 1060.6,617.0 1061.3,617.0 1062.0,617.0 1062.7,617.0 1063.3,617.0 1064.0,617.0 1064.7,617.0 1065.4,617.0 1066.1,617.0 1066.7,617.0 1067.4,617.0 1068.1,617.0 1068.8,617.0 1069.4,617.0 1070.1,617.0 1070.8,617.0 1071.5,617.0 1072.2,617.0 1072.8,617.0 1073.5,617.0 1074.2,617.0 1074.9,617.0 1075.5,617.0 1076.2,617.0 1076.9,617.0 1077.6,617.0 1078.3,617.0 1078.9,617.0 1079.6,617.0 1080.3,617.0 1081.0,617.0 1081.6,617.0 1082.3,617.0 1083.0,617.0 1083.7,617.0 1084.3,617.0 1085.0,617.0 1085.7,617.0 1086.4,617.0 1087.1,617.0 1087.7,617.0 1088.4,617.0 1089.1,617.0 1089.8,617.0 1090.4,617.0 1091.1,617.0 1091.8,617.0 1092.5,617.0 1093.2,617.0 1093.8,617.0 1094.5,617.0 1095.2,617.0 1095.9,617.0 1096.5,617.0 1097.2,617.0 1097.9,617.0 1098.6,617.0 1099.3,617.0 1099.9,617.0 1100.6,617.0 1101.3,617.0 1102.0,617.0 1102.6,617.0 1103.3,617.0 1104.0,617.0 1104.7,617.0 1105.4,617.0 1106.0,617.0 1106.7,617.0 1107.4,617.0 1108.1,617.0 1108.7,617.0 1109.4,617.0 1110.1,617.0 1110.8,617.0 1111.4,617.0 1112.1,617.0 1112.8,617.0 1113.5,617.0 1114.2,617.0 1114.8,617.0 1115.5,617.0 1116.2,617.0 1116.9,617.0 1117.5,617.0 1118.2,617.0 1118.9,617.0 1119.6,617.0 1120.3,617.0 1120.9,617.0 1121.6,617.0 1122.3,617.0 1123.0,617.0 1123.6,617.0 1124.3,617.0 1125.0,617.0 1125.7,617.0 1126.4,617.0 1127.0,617.0 1127.7,617.0 1128.4,617.0 1129.1,617.0 1129.7,617.0 1130.4,617.0 1131.1,617.0 1131.8,617.0 1132.5,617.0 1133.1,617.0 1133.8,617.0 1134.5,617.0 1135.2,617.0 1135.8,617.0 1136.5,617.0 1137.2,617.0 1137.9,617.0 1138.5,617.0 1139.2,617.0 1139.9,617.0 1140.6,617.0 1141.3,617.0 1141.9,617.0 1142.6,617.0 1143.3,617.0 1144.0,617.0 1144.6,617.0 1145.3,617.0" fill="none" stroke="#a8652c" stroke-width="2.2" stroke-dasharray="12,6" stroke-dashoffset="12.0"/>
<polyline points="742.9,617.0 743.6,617.0 744.2,617.0 744.9,617.0 745.6,617.0 746.3,617.0 747.0,617.0 747.6,617.0 748.3,617.0 749.0,617.0 749.7,617.0 750.3,617.0 751.0,617.0 751.7,617.0 752.4,617.0 753.0,617.0 753.7,617.0 754.4,617.0 755.1,616.9 755.8,616.9 756.4,616.9 757.1,616.9 757.8,616.9 758.5,616.9 759.1,616.9 759.8,616.9 760.5,616.9 761.2,616.9 761.9,616.9 762.5,616.9 763.2,616.9 763.9,616.9 764.6,616.9 765.2,616.9 765.9,616.9 766.6,616.8 767.3,616.8 768.0,616.8 768.6,616.8 769.3,616.8 770.0,616.8 770.7,616.8 771.3,616.8 772.0,616.7 772.7,616.7 773.4,616.7 774.1,616.7 774.7,616.7 775.4,616.7 776.1,616.6 776.8,616.6 777.4,616.6 778.1,616.6 778.8,616.5 779.5,616.5 780.1,616.5 780.8,616.4 781.5,616.4 782.2,616.4 782.9,616.3 783.5,616.3 784.2,616.2 784.9,616.2 785.6,616.1 786.2,616.1 786.9,616.0 787.6,615.9 788.3,615.9 789.0,615.8 789.6,615.7 790.3,615.6 791.0,615.5 791.7,615.4 792.3,615.3 793.0,615.2 793.7,615.1 794.4,615.0 795.1,614.8 795.7,614.7 796.4,614.5 797.1,614.3 797.8,614.1 798.4,614.0 799.1,613.7 799.8,613.5 800.5,613.3 801.2,613.0 801.8,612.7 802.5,612.4 803.2,612.1 803.9,611.8 804.5,611.4 805.2,611.0 805.9,610.6 806.6,610.1 807.2,609.6 807.9,609.1 808.6,608.5 809.3,607.9 810.0,607.3 810.6,606.6 811.3,605.8 812.0,605.0 812.7,604.1 813.3,602.2 814.0,600.2 814.7,597.9 815.4,595.5 816.1,592.8 816.7,589.9 817.4,586.8 818.1,583.4 818.8,579.8 819.4,575.9 820.1,571.8 820.8,567.5 821.5,562.9 822.2,558.1 822.8,553.1 823.5,547.9 824.2,542.4 824.9,536.8 825.5,531.0 826.2,525.0 826.9,518.8 827.6,512.6 828.3,506.2 828.9,499.8 829.6,493.3 830.3,486.7 831.0,480.2 831.6,473.6 832.3,467.1 833.0,460.7 833.7,454.3 834.3,448.0 835.0,441.9 835.7,436.0 836.4,430.2 837.1,424.6 837.7,419.2 838.4,414.1 839.1,409.2 839.8,404.7 840.4,400.4 841.1,396.4 841.8,392.7 842.5,389.4 843.2,386.4 843.8,383.8 844.5,381.5 845.2,379.5 845.9,377.9 846.5,376.7 847.2,375.8 847.9,375.3 848.6,375.1 849.3,375.2 849.9,375.5 850.6,376.0 851.3,376.7 852.0,377.6 852.6,378.6 853.3,379.8 854.0,381.2 854.7,382.8 855.4,384.5 856.0,386.3 856.7,388.3 857.4,390.4 858.1,392.7 858.7,395.0 859.4,397.5 860.1,400.1 860.8,402.8 861.4,405.6 862.1,408.5 862.8,411.4 863.5,414.5 864.2,417.6 864.8,420.7 865.5,423.9 866.2,427.2 866.9,430.5 867.5,433.9 868.2,437.2 868.9,440.6 869.6,444.1 870.3,447.5 870.9,450.9 871.6,454.4 872.3,457.9 873.0,461.3 873.6,464.8 874.3,468.2 875.0,471.6 875.7,475.0 876.4,478.4 877.0,481.7 877.7,485.1 878.4,488.4 879.1,491.6 879.7,494.9 880.4,498.0 881.1,501.2 881.8,504.3 882.5,507.4 883.1,510.4 883.8,513.4 884.5,516.3 885.2,519.1 885.8,522.0 886.5,524.7 887.2,527.5 887.9,530.1 888.6,532.7 889.2,535.3 889.9,537.8 890.6,540.3 891.3,542.7 891.9,545.0 892.6,547.3 893.3,549.5 894.0,551.7 894.6,553.8 895.3,555.9 896.0,557.9 896.7,559.9 897.4,561.8 898.0,563.7 898.7,565.5 899.4,567.3 900.1,569.0 900.7,570.7 901.4,572.3 902.1,573.9 902.8,575.4 903.5,576.9 904.1,578.3 904.8,579.7 905.5,581.1 906.2,582.4 906.8,583.6 907.5,584.9 908.2,586.1 908.9,587.2 909.6,588.3 910.2,589.4 910.9,590.5 911.6,591.5 912.3,592.4 912.9,593.4 913.6,594.3 914.3,595.2 915.0,596.0 915.7,596.8 916.3,597.6 917.0,598.4 917.7,599.1 918.4,599.8 919.0,600.5 919.7,601.2 920.4,601.8 921.1,602.4 921.7,603.0 922.4,603.6 923.1,604.1 923.8,604.6 924.5,605.2 925.1,605.6 925.8,606.1 926.5,606.6 927.2,607.0 927.8,607.4 928.5,607.8 929.2,608.2 929.9,608.6 930.6,608.9 931.2,609.3 931.9,609.6 932.6,609.9 933.3,610.2 933.9,610.5 934.6,610.8 935.3,611.0 936.0,611.3 936.7,611.5 937.3,611.8 938.0,612.0 938.7,612.2 939.4,612.4 940.0,612.6 940.7,612.8 941.4,613.0 942.1,613.2 942.8,613.3 943.4,613.5 944.1,613.7 944.8,613.8 945.5,613.9 946.1,614.1 946.8,614.2 947.5,614.3 948.2,614.4 948.8,614.6 949.5,614.7 950.2,614.8 950.9,614.9 951.6,615.0 952.2,615.1 952.9,615.1 953.6,615.2 954.3,615.3 954.9,615.4 955.6,615.5 956.3,615.5 957.0,615.6 957.7,615.7 958.3,615.7 959.0,615.8 959.7,615.8 960.4,615.9 961.0,615.9 961.7,616.0 962.4,616.0 963.1,616.1 963.8,616.1 964.4,616.2 965.1,616.2 965.8,616.2 966.5,616.3 967.1,616.3 967.8,616.3 968.5,616.4 969.2,616.4 969.9,616.4 970.5,616.5 971.2,616.5 971.9,616.5 972.6,616.5 973.2,616.5 973.9,616.6 974.6,616.6 975.3,616.6 975.9,616.6 976.6,616.6 977.3,616.7 978.0,616.7 978.7,616.7 979.3,616.7 980.0,616.7 980.7,616.7 981.4,616.7 982.0,616.8 982.7,616.8 983.4,616.8 984.1,616.8 984.8,616.8 985.4,616.8 986.1,616.8 986.8,616.8 987.5,616.8 988.1,616.8 988.8,616.9 989.5,616.9 990.2,616.9 990.9,616.9 991.5,616.9 992.2,616.9 992.9,616.9 993.6,616.9 994.2,616.9 994.9,616.9 995.6,616.9 996.3,616.9 997.0,616.9 997.6,616.9 998.3,616.9 999.0,616.9 999.7,616.9 1000.3,616.9 1001.0,616.9 1001.7,616.9 1002.4,616.9 1003.0,616.9 1003.7,616.9 1004.4,617.0 1005.1,617.0 1005.8,617.0 1006.4,617.0 1007.1,617.0 1007.8,617.0 1008.5,617.0 1009.1,617.0 1009.8,617.0 1010.5,617.0 1011.2,617.0 1011.9,617.0 1012.5,617.0 1013.2,617.0 1013.9,617.0 1014.6,617.0 1015.2,617.0 1015.9,617.0 1016.6,617.0 1017.3,617.0 1018.0,617.0 1018.6,617.0 1019.3,617.0 1020.0,617.0 1020.7,617.0 1021.3,617.0 1022.0,617.0 1022.7,617.0 1023.4,617.0 1024.1,617.0 1024.7,617.0 1025.4,617.0 1026.1,617.0 1026.8,617.0 1027.4,617.0 1028.1,617.0 1028.8,617.0 1029.5,617.0 1030.1,617.0 1030.8,617.0 1031.5,617.0 1032.2,617.0 1032.9,617.0 1033.5,617.0 1034.2,617.0 1034.9,617.0 1035.6,617.0 1036.2,617.0 1036.9,617.0 1037.6,617.0 1038.3,617.0 1039.0,617.0 1039.6,617.0 1040.3,617.0 1041.0,617.0 1041.7,617.0 1042.3,617.0 1043.0,617.0 1043.7,617.0 1044.4,617.0 1045.1,617.0 1045.7,617.0 1046.4,617.0 1047.1,617.0 1047.8,617.0 1048.4,617.0 1049.1,617.0 1049.8,617.0 1050.5,617.0 1051.2,617.0 1051.8,617.0 1052.5,617.0 1053.2,617.0 1053.9,617.0 1054.5,617.0 1055.2,617.0 1055.9,617.0 1056.6,617.0 1057.2,617.0 1057.9,617.0 1058.6,617.0 1059.3,617.0 1060.0,617.0 1060.6,617.0 1061.3,617.0 1062.0,617.0 1062.7,617.0 1063.3,617.0 1064.0,617.0 1064.7,617.0 1065.4,617.0 1066.1,617.0 1066.7,617.0 1067.4,617.0 1068.1,617.0 1068.8,617.0 1069.4,617.0 1070.1,617.0 1070.8,617.0 1071.5,617.0 1072.2,617.0 1072.8,617.0 1073.5,617.0 1074.2,617.0 1074.9,617.0 1075.5,617.0 1076.2,617.0 1076.9,617.0 1077.6,617.0 1078.3,617.0 1078.9,617.0 1079.6,617.0 1080.3,617.0 1081.0,617.0 1081.6,617.0 1082.3,617.0 1083.0,617.0 1083.7,617.0 1084.3,617.0 1085.0,617.0 1085.7,617.0 1086.4,617.0 1087.1,617.0 1087.7,617.0 1088.4,617.0 1089.1,617.0 1089.8,617.0 1090.4,617.0 1091.1,617.0 1091.8,617.0 1092.5,617.0 1093.2,617.0 1093.8,617.0 1094.5,617.0 1095.2,617.0 1095.9,617.0 1096.5,617.0 1097.2,617.0 1097.9,617.0 1098.6,617.0 1099.3,617.0 1099.9,617.0 1100.6,617.0 1101.3,617.0 1102.0,617.0 1102.6,617.0 1103.3,617.0 1104.0,617.0 1104.7,617.0 1105.4,617.0 1106.0,617.0 1106.7,617.0 1107.4,617.0 1108.1,617.0 1108.7,617.0 1109.4,617.0 1110.1,617.0 1110.8,617.0 1111.4,617.0 1112.1,617.0 1112.8,617.0 1113.5,617.0 1114.2,617.0 1114.8,617.0 1115.5,617.0 1116.2,617.0 1116.9,617.0 1117.5,617.0 1118.2,617.0 1118.9,617.0 1119.6,617.0 1120.3,617.0 1120.9,617.0 1121.6,617.0 1122.3,617.0 1123.0,617.0 1123.6,617.0 1124.3,617.0 1125.0,617.0 1125.7,617.0 1126.4,617.0 1127.0,617.0 1127.7,617.0 1128.4,617.0 1129.1,617.0 1129.7,617.0 1130.4,617.0 1131.1,617.0 1131.8,617.0 1132.5,617.0 1133.1,617.0 1133.8,617.0 1134.5,617.0 1135.2,617.0 1135.8,617.0 1136.5,617.0 1137.2,617.0 1137.9,617.0 1138.5,617.0 1139.2,617.0 1139.9,617.0 1140.6,617.0 1141.3,617.0 1141.9,617.0 1142.6,617.0 1143.3,617.0 1144.0,617.0 1144.6,617.0 1145.3,617.0" fill="none" stroke="#2a9a2a" stroke-width="2.2" stroke-dasharray="12,6" stroke-dashoffset="4.9"/>
<polyline points="742.9,617.0 743.6,617.0 744.2,617.0 744.9,617.0 745.6,617.0 746.3,617.0 747.0,617.0 747.6,617.0 748.3,617.0 749.0,617.0 749.7,617.0 750.3,617.0 751.0,617.0 751.7,617.0 752.4,617.0 753.0,617.0 753.7,617.0 754.4,617.0 755.1,616.9 755.8,616.9 756.4,616.9 757.1,616.9 757.8,616.9 758.5,616.9 759.1,616.9 759.8,616.9 760.5,616.9 761.2,616.9 761.9,616.9 762.5,616.9 763.2,616.9 763.9,616.9 764.6,616.9 765.2,616.9 765.9,616.9 766.6,616.8 767.3,616.8 768.0,616.8 768.6,616.8 769.3,616.8 770.0,616.8 770.7,616.8 771.3,616.8 772.0,616.8 772.7,616.8 773.4,616.7 774.1,616.7 774.7,616.7 775.4,616.7 776.1,616.7 776.8,616.7 777.4,616.6 778.1,616.6 778.8,616.6 779.5,616.6 780.1,616.6 780.8,616.5 781.5,616.5 782.2,616.5 782.9,616.5 783.5,616.4 784.2,616.4 784.9,616.4 785.6,616.3 786.2,616.3 786.9,616.3 787.6,616.2 788.3,616.2 789.0,616.2 789.6,616.1 790.3,616.1 791.0,616.0 791.7,616.0 792.3,615.9 793.0,615.9 793.7,615.8 794.4,615.7 795.1,615.7 795.7,615.6 796.4,615.6 797.1,615.5 797.8,615.4 798.4,615.3 799.1,615.3 799.8,615.2 800.5,615.1 801.2,615.0 801.8,614.9 802.5,614.8 803.2,614.7 803.9,614.6 804.5,614.4 805.2,614.3 805.9,614.2 806.6,614.1 807.2,613.9 807.9,613.8 808.6,613.6 809.3,613.5 810.0,613.3 810.6,613.1 811.3,612.9 812.0,612.8 812.7,612.6 813.3,612.3 814.0,612.1 814.7,611.9 815.4,611.7 816.1,611.4 816.7,611.2 817.4,610.9 818.1,610.6 818.8,610.3 819.4,610.0 820.1,609.7 820.8,609.4 821.5,609.0 822.2,608.7 822.8,608.3 823.5,607.9 824.2,607.5 824.9,607.1 825.5,606.6 826.2,606.2 826.9,605.7 827.6,605.2 828.3,604.7 828.9,604.2 829.6,603.6 830.3,603.0 831.0,602.1 831.6,601.1 832.3,600.1 833.0,599.0 833.7,597.9 834.3,596.7 835.0,595.5 835.7,594.3 836.4,593.0 837.1,591.7 837.7,590.4 838.4,589.1 839.1,587.7 839.8,586.3 840.4,584.9 841.1,583.4 841.8,581.9 842.5,580.4 843.2,578.9 843.8,577.4 844.5,575.9 845.2,574.4 845.9,572.8 846.5,571.3 847.2,569.7 847.9,568.2 848.6,566.6 849.3,565.1 849.9,563.6 850.6,562.1 851.3,560.6 852.0,559.1 852.6,557.6 853.3,556.2 854.0,554.8 854.7,553.4 855.4,552.0 856.0,550.7 856.7,549.4 857.4,548.1 858.1,546.9 858.7,545.7 859.4,544.5 860.1,543.4 860.8,542.3 861.4,541.3 862.1,540.3 862.8,539.4 863.5,538.5 864.2,537.6 864.8,536.9 865.5,536.1 866.2,535.4 866.9,534.8 867.5,534.2 868.2,533.7 868.9,533.2 869.6,532.7 870.3,532.4 870.9,532.0 871.6,531.8 872.3,531.5 873.0,531.4 873.6,531.2 874.3,531.2 875.0,531.1 875.7,531.2 876.4,531.2 877.0,531.3 877.7,531.4 878.4,531.6 879.1,531.8 879.7,532.1 880.4,532.3 881.1,532.6 881.8,533.0 882.5,533.3 883.1,533.7 883.8,534.2 884.5,534.6 885.2,535.1 885.8,535.6 886.5,536.2 887.2,536.7 887.9,537.3 888.6,537.9 889.2,538.5 889.9,539.2 890.6,539.9 891.3,540.6 891.9,541.3 892.6,542.0 893.3,542.7 894.0,543.5 894.6,544.3 895.3,545.1 896.0,545.9 896.7,546.7 897.4,547.5 898.0,548.3 898.7,549.2 899.4,550.0 900.1,550.9 900.7,551.7 901.4,552.6 902.1,553.5 902.8,554.3 903.5,555.2 904.1,556.1 904.8,557.0 905.5,557.9 906.2,558.8 906.8,559.6 907.5,560.5 908.2,561.4 908.9,562.3 909.6,563.2 910.2,564.1 910.9,564.9 911.6,565.8 912.3,566.7 912.9,567.5 913.6,568.4 914.3,569.3 915.0,570.1 915.7,571.0 916.3,571.8 917.0,572.6 917.7,573.5 918.4,574.3 919.0,575.1 919.7,575.9 920.4,576.7 921.1,577.5 921.7,578.2 922.4,579.0 923.1,579.8 923.8,580.5 924.5,581.3 925.1,582.0 925.8,582.7 926.5,583.4 927.2,584.1 927.8,584.8 928.5,585.5 929.2,586.2 929.9,586.9 930.6,587.5 931.2,588.2 931.9,588.8 932.6,589.4 933.3,590.0 933.9,590.6 934.6,591.2 935.3,591.8 936.0,592.4 936.7,593.0 937.3,593.5 938.0,594.1 938.7,594.6 939.4,595.1 940.0,595.6 940.7,596.2 941.4,596.7 942.1,597.1 942.8,597.6 943.4,598.1 944.1,598.6 944.8,599.0 945.5,599.4 946.1,599.9 946.8,600.3 947.5,600.7 948.2,601.1 948.8,601.5 949.5,601.9 950.2,602.3 950.9,602.7 951.6,603.0 952.2,603.4 952.9,603.7 953.6,604.1 954.3,604.4 954.9,604.7 955.6,605.1 956.3,605.4 957.0,605.7 957.7,606.0 958.3,606.3 959.0,606.6 959.7,606.8 960.4,607.1 961.0,607.4 961.7,607.6 962.4,607.9 963.1,608.1 963.8,608.4 964.4,608.6 965.1,608.8 965.8,609.1 966.5,609.3 967.1,609.5 967.8,609.7 968.5,609.9 969.2,610.1 969.9,610.3 970.5,610.5 971.2,610.7 971.9,610.8 972.6,611.0 973.2,611.2 973.9,611.3 974.6,611.5 975.3,611.7 975.9,611.8 976.6,612.0 977.3,612.1 978.0,612.2 978.7,612.4 979.3,612.5 980.0,612.6 980.7,612.8 981.4,612.9 982.0,613.0 982.7,613.1 983.4,613.2 984.1,613.3 984.8,613.5 985.4,613.6 986.1,613.7 986.8,613.8 987.5,613.9 988.1,613.9 988.8,614.0 989.5,614.1 990.2,614.2 990.9,614.3 991.5,614.4 992.2,614.5 992.9,614.5 993.6,614.6 994.2,614.7 994.9,614.7 995.6,614.8 996.3,614.9 997.0,614.9 997.6,615.0 998.3,615.1 999.0,615.1 999.7,615.2 1000.3,615.2 1001.0,615.3 1001.7,615.3 1002.4,615.4 1003.0,615.4 1003.7,615.5 1004.4,615.5 1005.1,615.6 1005.8,615.6 1006.4,615.7 1007.1,615.7 1007.8,615.7 1008.5,615.8 1009.1,615.8 1009.8,615.9 1010.5,615.9 1011.2,615.9 1011.9,616.0 1012.5,616.0 1013.2,616.0 1013.9,616.1 1014.6,616.1 1015.2,616.1 1015.9,616.1 1016.6,616.2 1017.3,616.2 1018.0,616.2 1018.6,616.2 1019.3,616.3 1020.0,616.3 1020.7,616.3 1021.3,616.3 1022.0,616.4 1022.7,616.4 1023.4,616.4 1024.1,616.4 1024.7,616.4 1025.4,616.4 1026.1,616.5 1026.8,616.5 1027.4,616.5 1028.1,616.5 1028.8,616.5 1029.5,616.5 1030.1,616.6 1030.8,616.6 1031.5,616.6 1032.2,616.6 1032.9,616.6 1033.5,616.6 1034.2,616.6 1034.9,616.6 1035.6,616.7 1036.2,616.7 1036.9,616.7 1037.6,616.7 1038.3,616.7 1039.0,616.7 1039.6,616.7 1040.3,616.7 1041.0,616.7 1041.7,616.7 1042.3,616.8 1043.0,616.8 1043.7,616.8 1044.4,616.8 1045.1,616.8 1045.7,616.8 1046.4,616.8 1047.1,616.8 1047.8,616.8 1048.4,616.8 1049.1,616.8 1049.8,616.8 1050.5,616.8 1051.2,616.8 1051.8,616.8 1052.5,616.8 1053.2,616.9 1053.9,616.9 1054.5,616.9 1055.2,616.9 1055.9,616.9 1056.6,616.9 1057.2,616.9 1057.9,616.9 1058.6,616.9 1059.3,616.9 1060.0,616.9 1060.6,616.9 1061.3,616.9 1062.0,616.9 1062.7,616.9 1063.3,616.9 1064.0,616.9 1064.7,616.9 1065.4,616.9 1066.1,616.9 1066.7,616.9 1067.4,616.9 1068.1,616.9 1068.8,616.9 1069.4,616.9 1070.1,616.9 1070.8,616.9 1071.5,616.9 1072.2,616.9 1072.8,616.9 1073.5,616.9 1074.2,616.9 1074.9,616.9 1075.5,617.0 1076.2,617.0 1076.9,617.0 1077.6,617.0 1078.3,617.0 1078.9,617.0 1079.6,617.0 1080.3,617.0 1081.0,617.0 1081.6,617.0 1082.3,617.0 1083.0,617.0 1083.7,617.0 1084.3,617.0 1085.0,617.0 1085.7,617.0 1086.4,617.0 1087.1,617.0 1087.7,617.0 1088.4,617.0 1089.1,617.0 1089.8,617.0 1090.4,617.0 1091.1,617.0 1091.8,617.0 1092.5,617.0 1093.2,617.0 1093.8,617.0 1094.5,617.0 1095.2,617.0 1095.9,617.0 1096.5,617.0 1097.2,617.0 1097.9,617.0 1098.6,617.0 1099.3,617.0 1099.9,617.0 1100.6,617.0 1101.3,617.0 1102.0,617.0 1102.6,617.0 1103.3,617.0 1104.0,617.0 1104.7,617.0 1105.4,617.0 1106.0,617.0 1106.7,617.0 1107.4,617.0 1108.1,617.0 1108.7,617.0 1109.4,617.0 1110.1,617.0 1110.8,617.0 1111.4,617.0 1112.1,617.0 1112.8,617.0 1113.5,617.0 1114.2,617.0 1114.8,617.0 1115.5,617.0 1116.2,617.0 1116.9,617.0 1117.5,617.0 1118.2,617.0 1118.9,617.0 1119.6,617.0 1120.3,617.0 1120.9,617.0 1121.6,617.0 1122.3,617.0 1123.0,617.0 1123.6,617.0 1124.3,617.0 1125.0,617.0 1125.7,617.0 1126.4,617.0 1127.0,617.0 1127.7,617.0 1128.4,617.0 1129.1,617.0 1129.7,617.0 1130.4,617.0 1131.1,617.0 1131.8,617.0 1132.5,617.0 1133.1,617.0 1133.8,617.0 1134.5,617.0 1135.2,617.0 1135.8,617.0 1136.5,617.0 1137.2,617.0 1137.9,617.0 1138.5,617.0 1139.2,617.0 1139.9,617.0 1140.6,617.0 1141.3,617.0 1141.9,617.0 1142.6,617.0 1143.3,617.0 1144.0,617.0 1144.6,617.0 1145.3,617.0" fill="none" stroke="#245c9c" stroke-width="2.2" stroke-dasharray="12,6" stroke-dashoffset="8.8"/>
<path d="M739.50,617.0v-8.6M739.50,12.349999999999909v8.6M753.05,617.0v-4.4M753.05,12.349999999999909v4.4M766.60,617.0v-4.4M766.60,12.349999999999909v4.4M780.15,617.0v-4.4M780.15,12.349999999999909v4.4M793.70,617.0v-4.4M793.70,12.349999999999909v4.4M807.25,617.0v-8.6M807.25,12.349999999999909v8.6M820.80,617.0v-4.4M820.80,12.349999999999909v4.4M834.35,617.0v-4.4M834.35,12.349999999999909v4.4M847.90,617.0v-4.4M847.90,12.349999999999909v4.4M861.45,617.0v-4.4M861.45,12.349999999999909v4.4M875.00,617.0v-8.6M875.00,12.349999999999909v8.6M888.55,617.0v-4.4M888.55,12.349999999999909v4.4M902.10,617.0v-4.4M902.10,12.349999999999909v4.4M915.65,617.0v-4.4M915.65,12.349999999999909v4.4M929.20,617.0v-4.4M929.20,12.349999999999909v4.4M942.75,617.0v-8.6M942.75,12.349999999999909v8.6M956.30,617.0v-4.4M956.30,12.349999999999909v4.4M969.85,617.0v-4.4M969.85,12.349999999999909v4.4M983.40,617.0v-4.4M983.40,12.349999999999909v4.4M996.95,617.0v-4.4M996.95,12.349999999999909v4.4M1010.50,617.0v-8.6M1010.50,12.349999999999909v8.6M1024.05,617.0v-4.4M1024.05,12.349999999999909v4.4M1037.60,617.0v-4.4M1037.60,12.349999999999909v4.4M1051.15,617.0v-4.4M1051.15,12.349999999999909v4.4M1064.70,617.0v-4.4M1064.70,12.349999999999909v4.4M1078.25,617.0v-8.6M1078.25,12.349999999999909v8.6M1091.80,617.0v-4.4M1091.80,12.349999999999909v4.4M1105.35,617.0v-4.4M1105.35,12.349999999999909v4.4M1118.90,617.0v-4.4M1118.90,12.349999999999909v4.4M1132.45,617.0v-4.4M1132.45,12.349999999999909v4.4M1146.00,617.0v-8.6M1146.00,12.349999999999909v8.6M1159.55,617.0v-4.4M1159.55,12.349999999999909v4.4M1173.10,617.0v-4.4M1173.10,12.349999999999909v4.4M1186.65,617.0v-4.4M1186.65,12.349999999999909v4.4M1200.20,617.0v-4.4M1200.20,12.349999999999909v4.4M1213.75,617.0v-8.6M1213.75,12.349999999999909v8.6M1227.30,617.0v-4.4M1227.30,12.349999999999909v4.4M1240.85,617.0v-4.4M1240.85,12.349999999999909v4.4M1254.40,617.0v-4.4M1254.40,12.349999999999909v4.4M1267.95,617.0v-4.4M1267.95,12.349999999999909v4.4M1281.50,617.0v-8.6M1281.50,12.349999999999909v8.6M739.5,617.00h8.6M1281.50,617.00h-8.6M739.5,596.85h4.4M1281.50,596.85h-4.4M739.5,576.69h4.4M1281.50,576.69h-4.4M739.5,556.53h4.4M1281.50,556.53h-4.4M739.5,536.38h4.4M1281.50,536.38h-4.4M739.5,516.23h4.4M1281.50,516.23h-4.4M739.5,496.07h4.4M1281.50,496.07h-4.4M739.5,475.91h4.4M1281.50,475.91h-4.4M739.5,455.76h4.4M1281.50,455.76h-4.4M739.5,435.61h4.4M1281.50,435.61h-4.4M739.5,415.45h8.6M1281.50,415.45h-8.6M739.5,395.29h4.4M1281.50,395.29h-4.4M739.5,375.14h4.4M1281.50,375.14h-4.4M739.5,354.98h4.4M1281.50,354.98h-4.4M739.5,334.83h4.4M1281.50,334.83h-4.4M739.5,314.67h4.4M1281.50,314.67h-4.4M739.5,294.52h4.4M1281.50,294.52h-4.4M739.5,274.36h4.4M1281.50,274.36h-4.4M739.5,254.21h4.4M1281.50,254.21h-4.4M739.5,234.05h4.4M1281.50,234.05h-4.4M739.5,213.90h8.6M1281.50,213.90h-8.6M739.5,193.74h4.4M1281.50,193.74h-4.4M739.5,173.59h4.4M1281.50,173.59h-4.4M739.5,153.43h4.4M1281.50,153.43h-4.4M739.5,133.28h4.4M1281.50,133.28h-4.4M739.5,113.12h4.4M1281.50,113.12h-4.4M739.5,92.97h4.4M1281.50,92.97h-4.4M739.5,72.81h4.4M1281.50,72.81h-4.4M739.5,52.66h4.4M1281.50,52.66h-4.4M739.5,32.50h4.4M1281.50,32.50h-4.4M739.5,12.35h8.6M1281.50,12.35h-8.6" stroke="#333" stroke-width="1.7" fill="none"/><rect x="739.5" y="12.35" width="542.00" height="604.65" fill="none" stroke="#333" stroke-width="2.1"/><line x1="773.3" y1="616.0" x2="1071.5" y2="616.0" stroke="#000" stroke-width="2.6"/>
<g font-size="30" fill="#000"><text transform="translate(739.4,649.9) scale(1,1.065)" text-anchor="middle">0</text><text transform="translate(807.1,649.9) scale(1,1.065)" text-anchor="middle">10</text><text transform="translate(874.9,649.9) scale(1,1.065)" text-anchor="middle">20</text><text transform="translate(942.6,649.9) scale(1,1.065)" text-anchor="middle">30</text><text transform="translate(1010.4,649.9) scale(1,1.065)" text-anchor="middle">40</text><text transform="translate(1078.2,649.9) scale(1,1.065)" text-anchor="middle">50</text><text transform="translate(1145.9,649.9) scale(1,1.065)" text-anchor="middle">60</text><text transform="translate(1213.7,649.9) scale(1,1.065)" text-anchor="middle">70</text><text transform="translate(1281.4,649.9) scale(1,1.065)" text-anchor="middle">80</text><text transform="translate(729.5,22.9) scale(1,1.0)" text-anchor="end">1.5</text><text transform="translate(729.5,224.0) scale(1,1.065)" text-anchor="end">1.0</text><text transform="translate(729.5,426.2) scale(1,1.065)" text-anchor="end">0.5</text><text transform="translate(729.5,627.0) scale(1,1.065)" text-anchor="end">0</text></g>
<g transform="translate(29.0,591.3) rotate(-90)" fill="#000">
<text x="0" y="0" font-size="33" font-weight="bold">AREAL DOT DENSITY</text>
<text x="353.4" y="0" font-size="33">(</text>
<text x="371.3" y="0" font-size="33">×</text>
<text x="397.8" y="0" font-size="33" font-weight="bold">10</text>
<text x="434.3" y="-11.2" font-size="23" font-weight="bold">11</text>
<text x="471.6" y="0" font-size="33" font-weight="bold">cm</text>
<text x="520.9" y="-12" font-size="23" font-weight="bold">-2</text>
<text x="543.3" y="0" font-size="33">)</text>
</g>
<g transform="translate(680.4,591.6999999999999) rotate(-90)" fill="#000">
<text x="0" y="0" font-size="33" font-weight="bold">AREAL DOT DENSITY</text>
<text x="353.4" y="0" font-size="33">(</text>
<text x="371.3" y="0" font-size="33">×</text>
<text x="397.8" y="0" font-size="33" font-weight="bold">10</text>
<text x="434.3" y="-11.2" font-size="23" font-weight="bold">11</text>
<text x="471.6" y="0" font-size="33" font-weight="bold">cm</text>
<text x="520.9" y="-12" font-size="23" font-weight="bold">-2</text>
<text x="543.3" y="0" font-size="33">)</text>
</g>
<use href="#sem" x="333.2" y="96.0"/>
<use href="#sem" x="974.6" y="104.0"/>
<circle cx="503.29999999999995" cy="136.6" r="21.8" fill="none" stroke="#f58a14" stroke-width="3.4" stroke-dasharray="17.9 16.35" stroke-dashoffset="-0.8"/><path d="M502.0,73.8 h2.8 v19.5 h6.3 L503.4,115.2 L495.7,93.3 h6.3 Z" fill="#f41c1c"/><path d="M502.0,198 h2.8 v-19.5 h6.3 L503.4,157.8 L495.7,178.5 h6.3 Z" fill="#f41c1c"/>
<circle cx="1143.9" cy="145.3" r="21.8" fill="none" stroke="#f58a14" stroke-width="3.4" stroke-dasharray="17.9 16.35" stroke-dashoffset="-0.8"/><path d="M1073.6,143.4 v3.2 h29.1 v7.4 L1122.9,145.0 L1102.7,136.8 v6.6 Z" fill="#0505f5"/><path d="M1213.8,143.4 v3.2 h-25.3 v7.4 L1167,145.0 L1188.5,136.8 v6.6 Z" fill="#0505f5"/>
<text x="96.4" y="45.0" font-size="33">(a)</text>
<text x="751.9" y="45.0" font-size="33">(b)</text>
<text x="103.9" y="85.0" font-size="27" font-weight="bold" font-style="italic" fill="#c800c8">CVD Time: 30 sec</text>
<text x="752.0" y="90.7" font-size="27" font-weight="bold" font-style="italic" fill="#c800c8">CVD Time: 30 sec</text>
<text x="369.6" y="61.7" font-size="36.1" font-weight="bold" font-style="italic" fill="#fa0000">Line Direction</text>
<text x="1000.2" y="63.4" font-size="36.1" font-weight="bold" font-style="italic" fill="#0000f8">Width Direction</text>
<text x="202.7" y="317.0" font-size="27.1" font-weight="bold" font-style="italic" fill="#cc5a00">: 60 sec</text>
<text x="865.0" y="308.0" font-size="27.1" font-weight="bold" font-style="italic" fill="#cc5a00">: 60 sec</text>
<text x="250.2" y="454.4" font-size="27.1" font-weight="bold" font-style="italic" fill="#00c000">: 100 sec</text>
<text x="891.8" y="487.6" font-size="27.1" font-weight="bold" font-style="italic" fill="#00c000">: 100 sec</text>
<text x="326.9" y="572.2" font-size="27.1" font-weight="bold" font-style="italic" fill="#0a5fd2">: 150 sec</text>
<text x="982.9" y="586.9" font-size="27.1" font-weight="bold" font-style="italic" fill="#0a5fd2">: 150 sec</text>
<text x="251.6" y="684.9" font-size="32.9" font-weight="bold">LENGTH (nm)</text>
<text x="901.6" y="684.9" font-size="32.9" font-weight="bold">LENGTH (nm)</text>
<polygon points="140.50,651.15 140.50,643.66 147.16,643.66 147.16,651.15" fill="#fff"/>
<polygon points="149.81,651.15 149.81,643.66 156.02,643.66 156.02,651.15" fill="#fff"/>
<polygon points="38.26,23.17 38.26,16.14 44.93,16.14 44.93,23.17" fill="#fff"/>
<polygon points="47.58,23.17 47.58,16.14 53.79,16.14 53.79,23.17" fill="#fff"/>
<polygon points="38.28,225.25 38.28,217.76 44.94,217.76 44.94,225.25" fill="#fff"/>
<polygon points="47.59,225.25 47.59,217.76 53.80,217.76 53.80,225.25" fill="#fff"/>
<polygon points="791.30,651.15 791.30,643.66 797.96,643.66 797.96,651.15" fill="#fff"/>
<polygon points="800.61,651.15 800.61,643.66 806.82,643.66 806.82,651.15" fill="#fff"/>
<polygon points="688.66,24.07 688.66,17.04 695.33,17.04 695.33,24.07" fill="#fff"/>
<polygon points="697.98,24.07 697.98,17.04 704.19,17.04 704.19,24.07" fill="#fff"/>
<polygon points="688.68,225.25 688.68,217.76 695.34,217.76 695.34,225.25" fill="#fff"/>
<polygon points="697.99,225.25 697.99,217.76 704.20,217.76 704.20,225.25" fill="#fff"/>
<polygon points="30.29,192.86 21.75,192.86 21.75,185.80 30.29,185.80" fill="#fff"/>
<polygon points="30.29,181.27 21.75,181.27 21.75,174.97 30.29,174.97" fill="#fff"/>
<polygon points="18.70,156.55 12.75,156.55 12.75,151.63 18.70,151.63" fill="#fff"/>
<polygon points="18.70,148.48 12.75,148.48 12.75,144.08 18.70,144.08" fill="#fff"/>
<polygon points="18.70,145.04 12.75,145.04 12.75,140.12 18.70,140.12" fill="#fff"/>
<polygon points="18.70,136.96 12.75,136.96 12.75,132.57 18.70,132.57" fill="#fff"/>
<polygon points="681.69,193.26 673.15,193.26 673.15,186.20 681.69,186.20" fill="#fff"/>
<polygon points="681.69,181.67 673.15,181.67 673.15,175.37 681.69,175.37" fill="#fff"/>
<polygon points="670.10,156.95 664.15,156.95 664.15,152.03 670.10,152.03" fill="#fff"/>
<polygon points="670.10,148.88 664.15,148.88 664.15,144.48 670.10,144.48" fill="#fff"/>
<polygon points="670.10,145.44 664.15,145.44 664.15,140.52 670.10,140.52" fill="#fff"/>
<polygon points="670.10,137.36 664.15,137.36 664.15,132.97 670.10,132.97" fill="#fff"/>
<polygon points="265.82,455.46 267.28,448.45 272.93,448.45 271.57,455.46" fill="#fff"/>
<polygon points="275.29,455.46 276.65,448.45 281.83,448.45 280.38,455.46" fill="#fff"/>
<polygon points="907.42,488.66 908.88,481.65 914.53,481.65 913.17,488.66" fill="#fff"/>
<polygon points="916.89,488.66 918.25,481.65 923.43,481.65 921.98,488.66" fill="#fff"/>
<polygon points="342.52,573.26 343.98,566.25 349.63,566.25 348.27,573.26" fill="#fff"/>
<polygon points="351.99,573.26 353.35,566.25 358.53,566.25 357.08,573.26" fill="#fff"/>
<polygon points="998.52,587.96 999.98,580.95 1005.63,580.95 1004.27,587.96" fill="#fff"/>
<polygon points="1007.99,587.96 1009.35,580.95 1014.53,580.95 1013.08,587.96" fill="#fff"/>
</svg>
</body></html>
